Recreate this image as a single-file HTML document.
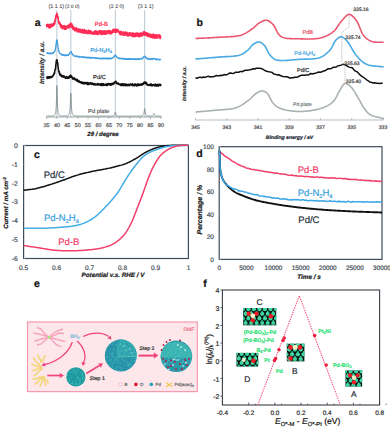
<!DOCTYPE html><html><head><meta charset="utf-8"><style>html,body{margin:0;padding:0;background:#fff;width:390px;height:431px;overflow:hidden;position:relative}</style></head><body><svg width="390" height="431" viewBox="0 0 390 431" text-rendering="geometricPrecision" style="position:absolute;left:0;top:0;font-family:'Liberation Sans', sans-serif">
<rect width="390" height="431" fill="#fff"/>
<line x1="56.9" y1="10" x2="56.9" y2="117" stroke="#a9b9c6" stroke-width="0.8"/>
<line x1="70.84" y1="10" x2="70.84" y2="117" stroke="#a9b9c6" stroke-width="0.8"/>
<line x1="115.35" y1="10" x2="115.35" y2="117" stroke="#a9b9c6" stroke-width="0.8"/>
<line x1="144.68" y1="10" x2="144.68" y2="117" stroke="#a9b9c6" stroke-width="0.8"/>
<text x="56.2" y="8.4" font-size="5.4" fill="#555" stroke="#555" stroke-width="0.12" text-anchor="middle">(1 1 1)</text>
<text x="72.2" y="8.4" font-size="5.0" fill="#555" stroke="#555" stroke-width="0.12" text-anchor="middle">(2 0 0)</text>
<text x="116.6" y="8.4" font-size="5.2" fill="#555" stroke="#555" stroke-width="0.12" text-anchor="middle">(2 2 0)</text>
<text x="145.8" y="8.4" font-size="5.4" fill="#555" stroke="#555" stroke-width="0.12" text-anchor="middle">(3 1 1)</text>
<path d="M46.5,25.45 L46.67,24.8 L46.83,26.7 L47,24.51 L47.17,26.28 L47.33,25.64 L47.5,24.47 L47.66,26.19 L47.83,24.4 L48,25.91 L48.16,24.53 L48.33,24.61 L48.5,25.88 L48.66,27.4 L48.83,24.73 L49,25.1 L49.16,26.63 L49.33,27.84 L49.5,26.43 L49.66,25.73 L49.83,27.92 L49.99,24.37 L50.16,27.44 L50.33,25.26 L50.49,24.68 L50.66,24.55 L50.83,25.25 L50.99,27.15 L51.16,24.69 L51.33,26.18 L51.49,26.35 L51.66,25.28 L51.82,25.89 L51.99,23.98 L52.16,23.9 L52.32,24.37 L52.49,26.08 L52.66,25.02 L52.82,24.47 L52.99,25.37 L53.16,24.73 L53.32,23.98 L53.49,25.68 L53.66,25.11 L53.82,23.15 L53.99,24.14 L54.15,23.66 L54.32,24.65 L54.49,23.72 L54.65,21.61 L54.82,23.76 L54.99,19.93 L55.15,20.46 L55.32,21.07 L55.49,18.02 L55.65,18.48 L55.82,15.91 L55.98,17.41 L56.15,16.9 L56.32,15.36 L56.48,15.82 L56.65,13.19 L56.82,14.39 L56.98,14.02 L57.15,14.26 L57.32,14.32 L57.48,16.5 L57.65,17.74 L57.82,16.87 L57.98,18.51 L58.15,17.12 L58.31,20.4 L58.48,20.98 L58.65,23.01 L58.81,23.01 L58.98,21.55 L59.15,22.45 L59.31,23.99 L59.48,21.95 L59.65,23.99 L59.81,23.2 L59.98,23.3 L60.14,23.35 L60.31,26.28 L60.48,24.07 L60.64,24.72 L60.81,25.44 L60.98,27.43 L61.14,24.57 L61.31,26.1 L61.48,26.61 L61.64,27.99 L61.81,27.85 L61.98,28.12 L62.14,25.98 L62.31,26.59 L62.47,26.45 L62.64,28.52 L62.81,28.87 L62.97,25.87 L63.14,26.03 L63.31,26.29 L63.47,26.35 L63.64,27.35 L63.81,27.8 L63.97,26.6 L64.14,25.65 L64.3,27.27 L64.47,27.11 L64.64,27.89 L64.8,29.39 L64.97,28.41 L65.14,27.77 L65.3,28.17 L65.47,28.41 L65.64,26.06 L65.8,29.28 L65.97,28.83 L66.14,29.19 L66.3,28.9 L66.47,27.35 L66.63,27.37 L66.8,26.23 L66.97,28.22 L67.13,26.02 L67.3,26 L67.47,26.49 L67.63,26.26 L67.8,26.88 L67.97,25.71 L68.13,25.43 L68.3,25.91 L68.46,25.6 L68.63,26.47 L68.8,25.04 L68.96,28.11 L69.13,26.94 L69.3,24.97 L69.46,25.15 L69.63,25.29 L69.8,25.12 L69.96,23.97 L70.13,26.52 L70.3,26.88 L70.46,24.73 L70.63,24.7 L70.79,23.16 L70.96,23.27 L71.13,24.3 L71.29,24.17 L71.46,26.54 L71.63,24.26 L71.79,24.01 L71.96,27.82 L72.13,26.5 L72.29,25.32 L72.46,27.09 L72.62,25.37 L72.79,27.5 L72.96,29.41 L73.12,29.17 L73.29,28.71 L73.46,27.21 L73.62,27.76 L73.79,27.13 L73.96,29.55 L74.12,28.76 L74.29,29.8 L74.46,28.19 L74.62,27.87 L74.79,30.19 L74.95,30.93 L75.12,30.5 L75.29,30.4 L75.45,30.52 L75.62,30.29 L75.79,28.4 L75.95,29.57 L76.12,29.01 L76.29,27.83 L76.45,27.88 L76.62,28.88 L76.78,28.86 L76.95,30.55 L77.12,31.6 L77.28,29.72 L77.45,31.62 L77.62,31.86 L77.78,31.78 L77.95,29.58 L78.12,29.07 L78.28,29.13 L78.45,29.06 L78.62,29.13 L78.78,30.76 L78.95,31.85 L79.11,31.66 L79.28,30.32 L79.45,31.02 L79.61,31.61 L79.78,28.93 L79.95,31.15 L80.11,32.14 L80.28,31.69 L80.45,31.6 L80.61,30.6 L80.78,29.49 L80.94,31.85 L81.11,30.15 L81.28,31.96 L81.44,32.64 L81.61,30.48 L81.78,30.54 L81.94,32.64 L82.11,31.83 L82.28,29.75 L82.44,29.62 L82.61,29.74 L82.78,32.64 L82.94,32.3 L83.11,29.82 L83.27,32.43 L83.44,33.05 L83.61,31.85 L83.77,30.72 L83.94,31.5 L84.11,29.94 L84.27,29.53 L84.44,33.2 L84.61,32.01 L84.77,31.57 L84.94,33.14 L85.1,31.27 L85.27,32.97 L85.44,32.82 L85.6,30.52 L85.77,30.7 L85.94,30.89 L86.1,30.72 L86.27,32.06 L86.44,30.85 L86.6,31.48 L86.77,30.42 L86.94,33.41 L87.1,31.32 L87.27,31.75 L87.43,32.25 L87.6,33.5 L87.77,31.69 L87.93,33.61 L88.1,32.06 L88.27,32.2 L88.43,32.2 L88.6,30.31 L88.77,31.94 L88.93,30.99 L89.1,30.34 L89.26,33.39 L89.43,31.03 L89.6,32.21 L89.76,33.19 L89.93,32.58 L90.1,31.72 L90.26,32.46 L90.43,32.6 L90.6,33.48 L90.76,30.91 L90.93,32.64 L91.1,31.46 L91.26,31.57 L91.43,33.46 L91.59,32.46 L91.76,32.67 L91.93,33.43 L92.09,34.01 L92.26,32.23 L92.43,32.88 L92.59,32.48 L92.76,32.51 L92.93,33.2 L93.09,32.29 L93.26,32.61 L93.42,32.4 L93.59,34.17 L93.76,33.25 L93.92,33.93 L94.09,34.18 L94.26,31.59 L94.42,32.74 L94.59,34.2 L94.76,33.81 L94.92,31.15 L95.09,31.09 L95.26,32.32 L95.42,30.92 L95.59,31.56 L95.75,30.93 L95.92,33.2 L96.09,33.64 L96.25,34.07 L96.42,31.25 L96.59,33.39 L96.75,33.18 L96.92,31.22 L97.09,34.04 L97.25,34.37 L97.42,31.53 L97.58,34.32 L97.75,32.21 L97.92,32.56 L98.08,34.47 L98.25,33.88 L98.42,31.33 L98.58,32.36 L98.75,32.68 L98.92,32.02 L99.08,31.47 L99.25,31.94 L99.42,33.48 L99.58,30.82 L99.75,32.85 L99.91,32.42 L100.08,30.82 L100.25,32.01 L100.41,33.12 L100.58,32.7 L100.75,30.99 L100.91,34.49 L101.08,33.75 L101.25,34.44 L101.41,31.15 L101.58,31.76 L101.74,30.9 L101.91,33.71 L102.08,31.78 L102.24,31.24 L102.41,32.35 L102.58,34.21 L102.74,33.86 L102.91,31.73 L103.08,31.31 L103.24,34.23 L103.41,32.91 L103.58,33.4 L103.74,31.07 L103.91,30.95 L104.07,33.35 L104.24,32.34 L104.41,31 L104.57,34.29 L104.74,33.13 L104.91,33.76 L105.07,31.03 L105.24,33.96 L105.41,30.96 L105.57,33.98 L105.74,32.42 L105.9,31.98 L106.07,32.78 L106.24,34.2 L106.4,31.69 L106.57,31.15 L106.74,32.66 L106.9,31.55 L107.07,31.05 L107.24,31.24 L107.4,30.81 L107.57,31.38 L107.74,31.78 L107.9,31.75 L108.07,33.46 L108.23,31.66 L108.4,32.45 L108.57,31.21 L108.73,31.84 L108.9,30.57 L109.07,31.43 L109.23,30.52 L109.4,33.23 L109.57,32.51 L109.73,31.12 L109.9,32.17 L110.06,33.9 L110.23,30.72 L110.4,33.4 L110.56,31.89 L110.73,32.1 L110.9,33.35 L111.06,31.63 L111.23,32.02 L111.4,32.66 L111.56,33.73 L111.73,31.25 L111.9,33.05 L112.06,32.52 L112.23,32.19 L112.39,31.24 L112.56,30.95 L112.73,29.77 L112.89,29.98 L113.06,29.67 L113.23,32.14 L113.39,30.21 L113.56,29.77 L113.73,29.39 L113.89,32.18 L114.06,32.21 L114.22,31.38 L114.39,29.83 L114.56,29.62 L114.72,29.76 L114.89,30.35 L115.06,29.18 L115.22,30.28 L115.39,29.6 L115.56,32.29 L115.72,32.37 L115.89,30.81 L116.06,29.73 L116.22,32.55 L116.39,30.14 L116.55,30.42 L116.72,29.17 L116.89,30.72 L117.05,31.18 L117.22,31.39 L117.39,30.35 L117.55,31.61 L117.72,29.81 L117.89,30.89 L118.05,30.33 L118.22,31.6 L118.38,30.33 L118.55,30.34 L118.72,31.5 L118.88,31.3 L119.05,32.72 L119.22,32.58 L119.38,33.49 L119.55,33.2 L119.72,33.49 L119.88,34.17 L120.05,32.37 L120.22,32.18 L120.38,34.74 L120.55,31.61 L120.71,33.85 L120.88,33.59 L121.05,31.36 L121.21,34.41 L121.38,34.67 L121.55,33.7 L121.71,34.15 L121.88,34.49 L122.05,31.97 L122.21,33.47 L122.38,33.43 L122.54,34.72 L122.71,34.64 L122.88,34.75 L123.04,33.87 L123.21,35.07 L123.38,34.31 L123.54,34.38 L123.71,32.64 L123.88,31.92 L124.04,32.34 L124.21,33.23 L124.38,32.29 L124.54,35.09 L124.71,34.06 L124.87,34.35 L125.04,34.37 L125.21,34.61 L125.37,33.91 L125.54,32.08 L125.71,35.13 L125.87,34.97 L126.04,34.06 L126.21,34.21 L126.37,34.7 L126.54,32.47 L126.7,35.04 L126.87,33.22 L127.04,32.57 L127.2,33.32 L127.37,35.11 L127.54,33.14 L127.7,35.19 L127.87,36.11 L128.04,34.3 L128.2,33.9 L128.37,34.29 L128.54,35.09 L128.7,35.43 L128.87,34.88 L129.03,35 L129.2,32.87 L129.37,33.15 L129.53,33.58 L129.7,35.46 L129.87,33.81 L130.03,34.83 L130.2,32.73 L130.37,32.93 L130.53,33.73 L130.7,35.27 L130.86,35.36 L131.03,35.31 L131.2,33.86 L131.36,34.73 L131.53,34.54 L131.7,34.56 L131.86,33.25 L132.03,36.2 L132.2,33.57 L132.36,36.54 L132.53,36.39 L132.7,32.91 L132.86,34.6 L133.03,35.98 L133.19,36.55 L133.36,34.59 L133.53,33.91 L133.69,33.69 L133.86,36.5 L134.03,33.71 L134.19,35.13 L134.36,33.46 L134.53,34.92 L134.69,36.56 L134.86,33.45 L135.02,36.07 L135.19,34.89 L135.36,36.33 L135.52,35.64 L135.69,33.85 L135.86,36.38 L136.02,34.82 L136.19,33.07 L136.36,32.99 L136.52,34.85 L136.69,34.69 L136.86,34.13 L137.02,33.52 L137.19,34.29 L137.35,34.18 L137.52,36.17 L137.69,32.98 L137.85,35.82 L138.02,36.15 L138.19,33.41 L138.35,36.47 L138.52,35.65 L138.69,36.36 L138.85,34.02 L139.02,34.32 L139.18,34.38 L139.35,36.67 L139.52,35.09 L139.68,34.21 L139.85,34.44 L140.02,33.83 L140.18,32.95 L140.35,33.12 L140.52,35.87 L140.68,33.75 L140.85,36.18 L141.02,33.53 L141.18,33.55 L141.35,34.43 L141.51,33.16 L141.68,33.8 L141.85,35.96 L142.01,35.62 L142.18,35.28 L142.35,34.53 L142.51,35.53 L142.68,35.56 L142.85,34 L143.01,34.57 L143.18,31.95 L143.34,34.48 L143.51,33.34 L143.68,34.42 L143.84,33.96 L144.01,32.55 L144.18,31.62 L144.34,34.93 L144.51,31.88 L144.68,33.2 L144.84,32.73 L145.01,32.59 L145.18,34.31 L145.34,35.27 L145.51,32.62 L145.67,34.2 L145.84,32.94 L146.01,34.01 L146.17,33.48 L146.34,32.72 L146.51,32.79 L146.67,33.07 L146.84,35.82 L147.01,34.36 L147.17,33.4 L147.34,36.1 L147.5,36.53 L147.67,34.53 L147.84,33.43 L148,33.71 L148.17,33.4 L148.34,34.42 L148.5,33.53 L148.67,34.16 L148.84,34.29 L149,35.53 L149.17,36.79 L149.34,36.32 L149.5,35.09 L149.67,35.14 L149.83,35.6 L150,35.09 L150.17,34.98 L150.33,33.97 L150.5,34.83 L150.67,37.48 L150.83,34.32 L151,35.79 L151.17,36.3 L151.33,37.22 L151.5,34.79 L151.66,35.03 L151.83,34.97 L152,35.57 L152.16,35.77 L152.33,37.73 L152.5,37.35 L152.66,37.47 L152.83,34.26 L153,34.32 L153.16,36.92 L153.33,37.65 L153.5,36.06 L153.66,36.52 L153.83,34.31 L153.99,35.82 L154.16,37.87 L154.33,37.5 L154.49,37.64 L154.66,38.1 L154.83,35.37 L154.99,34.86 L155.16,35.05 L155.33,36.46 L155.49,37.09 L155.66,38.09 L155.82,37.27 L155.99,37.01 L156.16,37.47 L156.32,36.32 L156.49,36.69 L156.66,34.76 L156.82,37.6 L156.99,35.53 L157.16,38.16 L157.32,37.13 L157.49,35.85 L157.66,35.19 L157.82,35.68 L157.99,37.15 L158.15,37.41 L158.32,35.19 L158.49,35.05 L158.65,36.79 L158.82,37.03 L158.99,36.3 L159.15,35.69 L159.32,37.14 L159.49,34.91 L159.65,36.03 L159.82,36.65 L159.98,38.55 L160.15,37.37 L160.32,38.3 L160.48,36.76 L160.65,35.86 L160.82,35.92" fill="none" stroke="#ff2d55" stroke-width="1.6" stroke-linejoin="round"/>
<path d="M46.5,53.52 L46.75,53.31 L47,52.98 L47.25,52.75 L47.5,53.21 L47.75,53.39 L48,53.19 L48.25,53.06 L48.5,53.45 L48.75,53.7 L49,53.09 L49.25,52.94 L49.5,53.23 L49.74,53.31 L49.99,53.56 L50.24,53.13 L50.49,53.67 L50.74,53.62 L50.99,53.4 L51.24,53.12 L51.49,53.79 L51.74,53.18 L51.99,53.6 L52.24,53.03 L52.49,52.96 L52.74,53.37 L52.99,52.86 L53.24,53.34 L53.49,52.78 L53.74,52.32 L53.99,52.12 L54.24,52 L54.49,51.84 L54.74,51.61 L54.99,50.25 L55.24,49.64 L55.49,48.4 L55.74,47.69 L55.98,45.19 L56.23,43.09 L56.48,41.09 L56.73,39.98 L56.98,40.24 L57.23,41.35 L57.48,43.17 L57.73,45.55 L57.98,47.41 L58.23,48.45 L58.48,49.57 L58.73,51.23 L58.98,51.82 L59.23,51.78 L59.48,52.83 L59.73,52.97 L59.98,53.28 L60.23,53.51 L60.48,53.59 L60.73,53.64 L60.98,54.06 L61.23,54.27 L61.48,54.94 L61.73,54.31 L61.98,55.17 L62.22,54.56 L62.47,54.77 L62.72,55.24 L62.97,55.3 L63.22,55 L63.47,54.69 L63.72,55.11 L63.97,55.06 L64.22,55.58 L64.47,54.95 L64.72,55.13 L64.97,55.63 L65.22,54.86 L65.47,55.21 L65.72,55.58 L65.97,55.54 L66.22,54.88 L66.47,54.86 L66.72,54.87 L66.97,55.61 L67.22,54.97 L67.47,55.36 L67.72,55.43 L67.97,54.84 L68.22,54.66 L68.46,55.13 L68.71,54.64 L68.96,54.09 L69.21,54.22 L69.46,53.5 L69.71,53.05 L69.96,52.34 L70.21,52.55 L70.46,52.3 L70.71,51.82 L70.96,52.12 L71.21,51.57 L71.46,52.2 L71.71,52.93 L71.96,53.87 L72.21,54.33 L72.46,54.22 L72.71,54.43 L72.96,54.87 L73.21,55.15 L73.46,55.74 L73.71,55.23 L73.96,55.92 L74.21,55.98 L74.46,56.16 L74.7,56.21 L74.95,56.14 L75.2,55.96 L75.45,56.01 L75.7,56.11 L75.95,56.54 L76.2,55.96 L76.45,56.11 L76.7,56.65 L76.95,56.24 L77.2,56.11 L77.45,56.12 L77.7,56.62 L77.95,56.45 L78.2,57.07 L78.45,57.02 L78.7,57.14 L78.95,56.52 L79.2,56.38 L79.45,56.42 L79.7,56.81 L79.95,57.03 L80.2,56.82 L80.45,56.65 L80.7,56.84 L80.94,57.05 L81.19,57.12 L81.44,57.21 L81.69,57.32 L81.94,57.18 L82.19,56.71 L82.44,57.38 L82.69,56.91 L82.94,57.18 L83.19,57.03 L83.44,57.38 L83.69,56.91 L83.94,56.98 L84.19,57 L84.44,56.93 L84.69,57.61 L84.94,57.36 L85.19,57.15 L85.44,57.24 L85.69,57.79 L85.94,57.38 L86.19,57.15 L86.44,57.69 L86.69,57.57 L86.94,57.89 L87.18,57.11 L87.43,57.47 L87.68,57.8 L87.93,57.84 L88.18,57.92 L88.43,57.16 L88.68,57.4 L88.93,57.27 L89.18,57.35 L89.43,58.07 L89.68,57.74 L89.93,58.07 L90.18,57.59 L90.43,58.06 L90.68,57.7 L90.93,57.55 L91.18,58.03 L91.43,58.2 L91.68,57.47 L91.93,57.93 L92.18,57.97 L92.43,57.63 L92.68,57.78 L92.93,57.59 L93.18,57.67 L93.42,57.73 L93.67,58.06 L93.92,58.13 L94.17,57.75 L94.42,57.59 L94.67,57.89 L94.92,58.23 L95.17,57.8 L95.42,57.94 L95.67,57.86 L95.92,58.41 L96.17,58.21 L96.42,57.79 L96.67,57.84 L96.92,58.12 L97.17,58.28 L97.42,58.38 L97.67,57.91 L97.92,57.99 L98.17,58.49 L98.42,58.25 L98.67,58.15 L98.92,58.19 L99.17,58.79 L99.42,58.23 L99.66,58.48 L99.91,58.31 L100.16,58.37 L100.41,58.78 L100.66,58.9 L100.91,58.34 L101.16,58.19 L101.41,58.67 L101.66,58.2 L101.91,58.03 L102.16,58.84 L102.41,58.41 L102.66,58.77 L102.91,58.4 L103.16,58.83 L103.41,58.46 L103.66,58.19 L103.91,58.06 L104.16,58.55 L104.41,58.63 L104.66,58.88 L104.91,58.14 L105.16,58.62 L105.41,58.4 L105.66,58.52 L105.9,58.2 L106.15,58.32 L106.4,58.53 L106.65,58.9 L106.9,58.16 L107.15,58.5 L107.4,58.79 L107.65,58.93 L107.9,58.23 L108.15,58.17 L108.4,58.9 L108.65,58.92 L108.9,58.47 L109.15,58.08 L109.4,58.85 L109.65,58.36 L109.9,58.81 L110.15,58.53 L110.4,58.7 L110.65,58.08 L110.9,58.61 L111.15,58.07 L111.4,58.2 L111.65,58.55 L111.9,58.48 L112.14,57.84 L112.39,57.79 L112.64,57.85 L112.89,57.84 L113.14,57.57 L113.39,57.16 L113.64,57.05 L113.89,57.21 L114.14,57.04 L114.39,55.91 L114.64,55.99 L114.89,55.82 L115.14,54.93 L115.39,55.59 L115.64,55.08 L115.89,55.81 L116.14,56.14 L116.39,56.6 L116.64,56.67 L116.89,57.09 L117.14,57.5 L117.39,57.57 L117.64,57.96 L117.89,57.92 L118.14,58.03 L118.38,57.76 L118.63,58.38 L118.88,58.33 L119.13,58.17 L119.38,58.7 L119.63,58.76 L119.88,58.51 L120.13,58.29 L120.38,58.59 L120.63,58.28 L120.88,58.33 L121.13,58.62 L121.38,58.34 L121.63,58.67 L121.88,58.75 L122.13,58.35 L122.38,58.9 L122.63,58.41 L122.88,59.01 L123.13,59.06 L123.38,58.84 L123.63,58.43 L123.88,58.85 L124.13,58.75 L124.38,59.27 L124.62,58.55 L124.87,59.21 L125.12,59.34 L125.37,59.11 L125.62,59.19 L125.87,58.64 L126.12,59.36 L126.37,58.92 L126.62,59.35 L126.87,59.32 L127.12,58.65 L127.37,59.22 L127.62,59.35 L127.87,58.58 L128.12,58.84 L128.37,59.21 L128.62,58.68 L128.87,59.35 L129.12,58.8 L129.37,59.29 L129.62,58.69 L129.87,59.02 L130.12,59.4 L130.37,58.76 L130.62,58.82 L130.86,59.04 L131.11,58.88 L131.36,58.63 L131.61,58.76 L131.86,58.75 L132.11,59.45 L132.36,59.22 L132.61,59.42 L132.86,58.77 L133.11,59.33 L133.36,58.73 L133.61,59.11 L133.86,59.2 L134.11,58.96 L134.36,59.42 L134.61,59.14 L134.86,59.16 L135.11,59.44 L135.36,58.74 L135.61,59.54 L135.86,59.21 L136.11,59 L136.36,59.37 L136.61,58.89 L136.86,59.54 L137.1,59.17 L137.35,58.97 L137.6,59.33 L137.85,59.04 L138.1,58.79 L138.35,59.3 L138.6,58.66 L138.85,59.35 L139.1,58.83 L139.35,59.17 L139.6,59.46 L139.85,59.09 L140.1,59.14 L140.35,58.79 L140.6,58.49 L140.85,58.48 L141.1,58.54 L141.35,58.91 L141.6,58.68 L141.85,58.68 L142.1,58.93 L142.35,58.13 L142.6,58.08 L142.85,58.29 L143.1,57.51 L143.34,57.24 L143.59,57.27 L143.84,56.72 L144.09,56.62 L144.34,56.24 L144.59,56.43 L144.84,56.47 L145.09,56.31 L145.34,56.99 L145.59,57.19 L145.84,57.21 L146.09,58.22 L146.34,57.84 L146.59,57.96 L146.84,58.08 L147.09,58.71 L147.34,59.03 L147.59,59.04 L147.84,58.78 L148.09,58.72 L148.34,58.54 L148.59,59.16 L148.84,59.12 L149.09,58.96 L149.34,59.25 L149.58,59.09 L149.83,59.55 L150.08,59.38 L150.33,58.95 L150.58,59.55 L150.83,58.77 L151.08,59.21 L151.33,59.08 L151.58,58.91 L151.83,58.71 L152.08,59.32 L152.33,58.57 L152.58,58.97 L152.83,59.22 L153.08,58.39 L153.33,58.33 L153.58,58.6 L153.83,58.48 L154.08,58.65 L154.33,58.91 L154.58,58.47 L154.83,58.73 L155.08,58.84 L155.33,58.71 L155.58,59.55 L155.82,59.51 L156.07,59.51 L156.32,58.91 L156.57,59.7 L156.82,59.64 L157.07,59.41 L157.32,59.69 L157.57,59.44 L157.82,59.26 L158.07,59.17 L158.32,59.29 L158.57,59.13 L158.82,59.41 L159.07,59.8 L159.32,59.76 L159.57,59.9 L159.82,59.79 L160.07,59.4 L160.32,59.67 L160.57,59.57 L160.82,59.89" fill="none" stroke="#3a9de0" stroke-width="1.3" stroke-linejoin="round"/>
<path d="M46.5,77.69 L46.75,77.15 L47,77.87 L47.25,78.49 L47.5,76.97 L47.75,78.26 L48,76.5 L48.25,76.96 L48.5,76.87 L48.75,77.85 L49,78.2 L49.25,77.76 L49.5,76.87 L49.74,77.93 L49.99,76.76 L50.24,76.52 L50.49,77.79 L50.74,77.16 L50.99,77.19 L51.24,77.04 L51.49,77.56 L51.74,76.42 L51.99,77.03 L52.24,76.59 L52.49,76.73 L52.74,75.69 L52.99,76.03 L53.24,75.44 L53.49,74.6 L53.74,74.02 L53.99,74.38 L54.24,72.74 L54.49,73.74 L54.74,71.39 L54.99,70.16 L55.24,69.1 L55.49,69.28 L55.74,66.39 L55.98,64.05 L56.23,61.83 L56.48,60.09 L56.73,60.26 L56.98,59.96 L57.23,60.91 L57.48,62.57 L57.73,63.17 L57.98,66.18 L58.23,67.51 L58.48,69.95 L58.73,71.23 L58.98,72.42 L59.23,71.62 L59.48,73.92 L59.73,74.59 L59.98,75.12 L60.23,73.83 L60.48,74.35 L60.73,74.43 L60.98,74.51 L61.23,76.33 L61.48,76.42 L61.73,76.21 L61.98,76.71 L62.22,76.47 L62.47,75.92 L62.72,75.67 L62.97,75.78 L63.22,77.2 L63.47,76.2 L63.72,76.51 L63.97,76.81 L64.22,76.08 L64.47,76.62 L64.72,76.74 L64.97,77.67 L65.22,77.03 L65.47,76.99 L65.72,78.33 L65.97,77.46 L66.22,78.19 L66.47,77.76 L66.72,76.62 L66.97,77.41 L67.22,77.47 L67.47,78.15 L67.72,77.3 L67.97,78 L68.22,77.64 L68.46,76.96 L68.71,78.18 L68.96,76.55 L69.21,77.88 L69.46,76.42 L69.71,75.89 L69.96,76.06 L70.21,76.96 L70.46,77.2 L70.71,75.16 L70.96,76.18 L71.21,76.36 L71.46,77.25 L71.71,76.35 L71.96,77.28 L72.21,77.27 L72.46,78.49 L72.71,77.57 L72.96,79.12 L73.21,77.96 L73.46,77.96 L73.71,79.05 L73.96,78.75 L74.21,78.07 L74.46,79.21 L74.7,78.18 L74.95,79.67 L75.2,79.63 L75.45,79.96 L75.7,79.79 L75.95,79.39 L76.2,79.62 L76.45,79.75 L76.7,80.88 L76.95,79.41 L77.2,81.15 L77.45,79.56 L77.7,80.06 L77.95,80.31 L78.2,81.72 L78.45,81.05 L78.7,80.94 L78.95,82.08 L79.2,80.91 L79.45,81.49 L79.7,81.76 L79.95,82.34 L80.2,82.47 L80.45,82.38 L80.7,81.92 L80.94,82 L81.19,81.79 L81.44,83.29 L81.69,83.06 L81.94,83.34 L82.19,82.25 L82.44,82.81 L82.69,83.5 L82.94,83.14 L83.19,82.26 L83.44,82.95 L83.69,83.83 L83.94,82.56 L84.19,82.49 L84.44,82.73 L84.69,83.56 L84.94,83.86 L85.19,82.51 L85.44,82.53 L85.69,82.74 L85.94,82.92 L86.19,83.34 L86.44,82.64 L86.69,83 L86.94,82.74 L87.18,84.34 L87.43,83.87 L87.68,82.64 L87.93,84.38 L88.18,82.68 L88.43,83.27 L88.68,84.49 L88.93,84.14 L89.18,84.04 L89.43,83.46 L89.68,83.01 L89.93,83.92 L90.18,82.88 L90.43,83.1 L90.68,83.48 L90.93,82.8 L91.18,83.55 L91.43,84.36 L91.68,84.19 L91.93,83.82 L92.18,84.11 L92.43,83.79 L92.68,83.17 L92.93,84.12 L93.18,83.74 L93.42,84.44 L93.67,84.79 L93.92,83.86 L94.17,84.17 L94.42,84.54 L94.67,83.91 L94.92,83.55 L95.17,84.56 L95.42,84.89 L95.67,84.7 L95.92,84.58 L96.17,84.91 L96.42,84.58 L96.67,84.53 L96.92,84.17 L97.17,83.91 L97.42,84.57 L97.67,83.53 L97.92,84.19 L98.17,84.94 L98.42,84.82 L98.67,84.68 L98.92,83.94 L99.17,84.31 L99.42,84.39 L99.66,84.75 L99.91,84.35 L100.16,84.89 L100.41,85.4 L100.66,83.91 L100.91,84.85 L101.16,85.1 L101.41,84.32 L101.66,84.53 L101.91,85.5 L102.16,83.63 L102.41,84.64 L102.66,83.87 L102.91,85.12 L103.16,85.43 L103.41,84.59 L103.66,83.76 L103.91,84.7 L104.16,84.64 L104.41,84.99 L104.66,84.58 L104.91,84.83 L105.16,85.21 L105.41,84.6 L105.66,84.37 L105.9,85.45 L106.15,83.97 L106.4,84.92 L106.65,84.33 L106.9,85.07 L107.15,83.78 L107.4,85.5 L107.65,84.24 L107.9,83.64 L108.15,84.07 L108.4,84.31 L108.65,83.53 L108.9,84.33 L109.15,84.32 L109.4,84.86 L109.65,84.15 L109.9,83.96 L110.15,83.86 L110.4,84.87 L110.65,85.24 L110.9,84.39 L111.15,83.74 L111.4,84.86 L111.65,83.99 L111.9,83.57 L112.14,83.34 L112.39,84.55 L112.64,84.52 L112.89,84.05 L113.14,83.58 L113.39,83.59 L113.64,82.72 L113.89,83.96 L114.14,82.48 L114.39,82.76 L114.64,82.84 L114.89,82.59 L115.14,81.73 L115.39,81.34 L115.64,81.94 L115.89,81.3 L116.14,82.98 L116.39,82.32 L116.64,83.59 L116.89,82.69 L117.14,83.13 L117.39,83.08 L117.64,83.59 L117.89,83.25 L118.14,83 L118.38,84.54 L118.63,83.74 L118.88,83.74 L119.13,83.91 L119.38,84.32 L119.63,84.26 L119.88,84.72 L120.13,84.8 L120.38,84.24 L120.63,85.4 L120.88,85.27 L121.13,83.7 L121.38,85.26 L121.63,85.44 L121.88,85.21 L122.13,83.94 L122.38,85.33 L122.63,84.95 L122.88,83.72 L123.13,83.73 L123.38,85.62 L123.63,85.04 L123.88,84.23 L124.13,83.94 L124.38,84.04 L124.62,84.22 L124.87,85.32 L125.12,84.46 L125.37,84.08 L125.62,85.59 L125.87,85.37 L126.12,84.13 L126.37,85.58 L126.62,85.02 L126.87,85.37 L127.12,85.15 L127.37,85.61 L127.62,85.4 L127.87,85.51 L128.12,84.23 L128.37,85.22 L128.62,84.9 L128.87,85.33 L129.12,84.72 L129.37,85.62 L129.62,84.96 L129.87,84.38 L130.12,84.33 L130.37,84.14 L130.62,84.85 L130.86,83.98 L131.11,84.8 L131.36,84.16 L131.61,84.86 L131.86,84.87 L132.11,84.96 L132.36,85.6 L132.61,83.89 L132.86,85.56 L133.11,84.82 L133.36,85.01 L133.61,85.21 L133.86,85.57 L134.11,84.63 L134.36,84.72 L134.61,85.8 L134.86,84.03 L135.11,85.16 L135.36,85.15 L135.61,83.94 L135.86,85.1 L136.11,85.24 L136.36,85.73 L136.61,84.53 L136.86,85.83 L137.1,84.88 L137.35,84.82 L137.6,85.64 L137.85,83.9 L138.1,85.26 L138.35,85.07 L138.6,84.48 L138.85,85.51 L139.1,84.51 L139.35,84.7 L139.6,84.79 L139.85,85.25 L140.1,84.1 L140.35,84.52 L140.6,84.46 L140.85,84.67 L141.1,85.17 L141.35,84.04 L141.6,85.04 L141.85,84.11 L142.1,84.21 L142.35,83.63 L142.6,83.97 L142.85,84.75 L143.1,83.93 L143.34,84 L143.59,82.87 L143.84,82.63 L144.09,82.41 L144.34,82.84 L144.59,82.87 L144.84,83.19 L145.09,81.8 L145.34,83.33 L145.59,83.86 L145.84,83.4 L146.09,82.62 L146.34,83.32 L146.59,82.91 L146.84,83.43 L147.09,85.03 L147.34,84.52 L147.59,84.72 L147.84,85.06 L148.09,85.38 L148.34,84.85 L148.59,84.91 L148.84,84.98 L149.09,85.16 L149.34,85 L149.58,85.2 L149.83,84.29 L150.08,85.23 L150.33,84.83 L150.58,85.47 L150.83,84.16 L151.08,84.34 L151.33,84.07 L151.58,85.56 L151.83,85.85 L152.08,85.35 L152.33,84.79 L152.58,85.7 L152.83,85.64 L153.08,85.2 L153.33,84.61 L153.58,84.7 L153.83,84.95 L154.08,84.75 L154.33,84.98 L154.58,85.41 L154.83,86 L155.08,84.25 L155.33,85.29 L155.58,84.24 L155.82,84.4 L156.07,85.79 L156.32,85.32 L156.57,86.02 L156.82,85.08 L157.07,84.22 L157.32,84.97 L157.57,85.38 L157.82,86.08 L158.07,86.17 L158.32,85.17 L158.57,85.04 L158.82,84.43 L159.07,85.52 L159.32,84.66 L159.57,84.54 L159.82,84.27 L160.07,84.25 L160.32,85.62 L160.57,84.5 L160.82,86.19" fill="none" stroke="#111" stroke-width="1.6" stroke-linejoin="round"/>
<path d="M46.5,116.13 L46.6,116.13 L46.71,116.13 L46.81,116.13 L46.92,116.12 L47.02,116.12 L47.12,116.12 L47.23,116.12 L47.33,116.12 L47.44,116.12 L47.54,116.12 L47.64,116.11 L47.75,116.11 L47.85,116.11 L47.96,116.11 L48.06,116.11 L48.16,116.1 L48.27,116.1 L48.37,116.1 L48.48,116.1 L48.58,116.09 L48.68,116.09 L48.79,116.09 L48.89,116.09 L49,116.08 L49.1,116.08 L49.2,116.08 L49.31,116.08 L49.41,116.07 L49.52,116.07 L49.62,116.07 L49.72,116.06 L49.83,116.06 L49.93,116.05 L50.04,116.05 L50.14,116.05 L50.24,116.04 L50.35,116.04 L50.45,116.03 L50.56,116.03 L50.66,116.02 L50.76,116.02 L50.87,116.01 L50.97,116 L51.08,116 L51.18,115.99 L51.28,115.98 L51.39,115.97 L51.49,115.97 L51.6,115.96 L51.7,115.95 L51.8,115.94 L51.91,115.93 L52.01,115.92 L52.12,115.9 L52.22,115.89 L52.32,115.88 L52.43,115.86 L52.53,115.85 L52.64,115.83 L52.74,115.82 L52.84,115.8 L52.95,115.78 L53.05,115.75 L53.16,115.73 L53.26,115.7 L53.36,115.68 L53.47,115.65 L53.57,115.61 L53.68,115.58 L53.78,115.54 L53.88,115.49 L53.99,115.44 L54.09,115.39 L54.2,115.33 L54.3,115.26 L54.4,115.18 L54.51,115.1 L54.61,115 L54.72,114.89 L54.82,114.77 L54.92,114.62 L55.03,114.45 L55.13,114.26 L55.24,114.03 L55.34,113.76 L55.44,113.43 L55.55,113.04 L55.65,112.56 L55.76,111.96 L55.86,111.22 L55.96,110.29 L56.07,109.09 L56.17,107.53 L56.28,105.5 L56.38,102.86 L56.48,99.47 L56.59,95.35 L56.69,90.89 L56.8,87.17 L56.9,85.67 L57,87.16 L57.11,90.89 L57.21,95.34 L57.32,99.47 L57.42,102.85 L57.52,105.5 L57.63,107.53 L57.73,109.08 L57.84,110.28 L57.94,111.21 L58.04,111.95 L58.15,112.55 L58.25,113.02 L58.36,113.42 L58.46,113.74 L58.56,114.01 L58.67,114.24 L58.77,114.44 L58.88,114.6 L58.98,114.75 L59.08,114.87 L59.19,114.98 L59.29,115.08 L59.4,115.16 L59.5,115.23 L59.6,115.3 L59.71,115.36 L59.81,115.41 L59.92,115.46 L60.02,115.5 L60.12,115.54 L60.23,115.58 L60.33,115.61 L60.44,115.64 L60.54,115.67 L60.64,115.69 L60.75,115.71 L60.85,115.73 L60.96,115.75 L61.06,115.77 L61.16,115.79 L61.27,115.8 L61.37,115.81 L61.48,115.83 L61.58,115.84 L61.68,115.85 L61.79,115.86 L61.89,115.87 L62,115.88 L62.1,115.88 L62.2,115.89 L62.31,115.9 L62.41,115.9 L62.52,115.91 L62.62,115.91 L62.72,115.92 L62.83,115.92 L62.93,115.93 L63.04,115.93 L63.14,115.93 L63.24,115.93 L63.35,115.94 L63.45,115.94 L63.56,115.94 L63.66,115.94 L63.76,115.94 L63.87,115.94 L63.97,115.94 L64.08,115.94 L64.18,115.94 L64.28,115.94 L64.39,115.94 L64.49,115.93 L64.6,115.93 L64.7,115.93 L64.8,115.93 L64.91,115.92 L65.01,115.92 L65.12,115.92 L65.22,115.91 L65.32,115.91 L65.43,115.9 L65.53,115.89 L65.64,115.89 L65.74,115.88 L65.84,115.87 L65.95,115.86 L66.05,115.85 L66.16,115.84 L66.26,115.83 L66.36,115.82 L66.47,115.81 L66.57,115.79 L66.68,115.78 L66.78,115.76 L66.88,115.74 L66.99,115.72 L67.09,115.7 L67.2,115.68 L67.3,115.65 L67.4,115.62 L67.51,115.59 L67.61,115.56 L67.72,115.52 L67.82,115.48 L67.92,115.44 L68.03,115.38 L68.13,115.33 L68.24,115.26 L68.34,115.19 L68.44,115.11 L68.55,115.02 L68.65,114.92 L68.76,114.8 L68.86,114.66 L68.96,114.51 L69.07,114.32 L69.17,114.11 L69.28,113.86 L69.38,113.56 L69.48,113.19 L69.59,112.76 L69.69,112.22 L69.8,111.56 L69.9,110.74 L70,109.7 L70.11,108.39 L70.21,106.74 L70.32,104.66 L70.42,102.14 L70.52,99.25 L70.63,96.34 L70.73,94.05 L70.84,93.17 L70.94,94.05 L71.04,96.34 L71.15,99.26 L71.25,102.14 L71.36,104.67 L71.46,106.74 L71.56,108.4 L71.67,109.71 L71.77,110.75 L71.88,111.57 L71.98,112.23 L72.08,112.77 L72.19,113.21 L72.29,113.57 L72.4,113.87 L72.5,114.13 L72.6,114.34 L72.71,114.53 L72.81,114.68 L72.92,114.82 L73.02,114.94 L73.12,115.04 L73.23,115.14 L73.33,115.22 L73.44,115.29 L73.54,115.36 L73.64,115.41 L73.75,115.47 L73.85,115.51 L73.96,115.55 L74.06,115.59 L74.16,115.63 L74.27,115.66 L74.37,115.69 L74.48,115.72 L74.58,115.74 L74.68,115.77 L74.79,115.79 L74.89,115.81 L75,115.82 L75.1,115.84 L75.2,115.86 L75.31,115.87 L75.41,115.89 L75.52,115.9 L75.62,115.91 L75.72,115.92 L75.83,115.93 L75.93,115.94 L76.04,115.95 L76.14,115.96 L76.24,115.97 L76.35,115.98 L76.45,115.99 L76.56,115.99 L76.66,116 L76.76,116.01 L76.87,116.01 L76.97,116.02 L77.08,116.02 L77.18,116.03 L77.28,116.03 L77.39,116.04 L77.49,116.04 L77.6,116.05 L77.7,116.05 L77.8,116.06 L77.91,116.06 L78.01,116.06 L78.12,116.07 L78.22,116.07 L78.32,116.07 L78.43,116.08 L78.53,116.08 L78.64,116.08 L78.74,116.09 L78.84,116.09 L78.95,116.09 L79.05,116.09 L79.16,116.1 L79.26,116.1 L79.36,116.1 L79.47,116.1 L79.57,116.1 L79.68,116.11 L79.78,116.11 L79.88,116.11 L79.99,116.11 L80.09,116.11 L80.2,116.12 L80.3,116.12 L80.4,116.12 L80.51,116.12 L80.61,116.12 L80.72,116.12 L80.82,116.12 L80.92,116.13 L81.03,116.13 L81.13,116.13 L81.24,116.13 L81.34,116.13 L81.44,116.13 L81.55,116.13 L81.65,116.13 L81.76,116.14 L81.86,116.14 L81.96,116.14 L82.07,116.14 L82.17,116.14 L82.28,116.14 L82.38,116.14 L82.48,116.14 L82.59,116.14 L82.69,116.14 L82.8,116.14 L82.9,116.15 L83,116.15 L83.11,116.15 L83.21,116.15 L83.32,116.15 L83.42,116.15 L83.52,116.15 L83.63,116.15 L83.73,116.15 L83.84,116.15 L83.94,116.15 L84.04,116.15 L84.15,116.15 L84.25,116.15 L84.36,116.15 L84.46,116.16 L84.56,116.16 L84.67,116.16 L84.77,116.16 L84.88,116.16 L84.98,116.16 L85.08,116.16 L85.19,116.16 L85.29,116.16 L85.4,116.16 L85.5,116.16 L85.6,116.16 L85.71,116.16 L85.81,116.16 L85.92,116.16 L86.02,116.16 L86.12,116.16 L86.23,116.16 L86.33,116.16 L86.44,116.16 L86.54,116.16 L86.64,116.16 L86.75,116.17 L86.85,116.17 L86.96,116.17 L87.06,116.17 L87.16,116.17 L87.27,116.17 L87.37,116.17 L87.48,116.17 L87.58,116.17 L87.68,116.17 L87.79,116.17 L87.89,116.17 L88,116.17 L88.1,116.17 L88.2,116.17 L88.31,116.17 L88.41,116.17 L88.52,116.17 L88.62,116.17 L88.72,116.17 L88.83,116.17 L88.93,116.17 L89.04,116.17 L89.14,116.17 L89.24,116.17 L89.35,116.17 L89.45,116.17 L89.56,116.17 L89.66,116.17 L89.76,116.17 L89.87,116.17 L89.97,116.17 L90.08,116.17 L90.18,116.17 L90.28,116.17 L90.39,116.17 L90.49,116.17 L90.6,116.17 L90.7,116.17 L90.8,116.18 L90.91,116.18 L91.01,116.18 L91.12,116.18 L91.22,116.18 L91.32,116.18 L91.43,116.18 L91.53,116.18 L91.64,116.18 L91.74,116.18 L91.84,116.18 L91.95,116.18 L92.05,116.18 L92.16,116.18 L92.26,116.18 L92.36,116.18 L92.47,116.18 L92.57,116.18 L92.68,116.18 L92.78,116.18 L92.88,116.18 L92.99,116.18 L93.09,116.18 L93.2,116.18 L93.3,116.18 L93.4,116.18 L93.51,116.18 L93.61,116.18 L93.72,116.18 L93.82,116.18 L93.92,116.18 L94.03,116.18 L94.13,116.18 L94.24,116.18 L94.34,116.18 L94.44,116.18 L94.55,116.18 L94.65,116.18 L94.76,116.18 L94.86,116.18 L94.96,116.18 L95.07,116.18 L95.17,116.18 L95.28,116.18 L95.38,116.18 L95.48,116.18 L95.59,116.18 L95.69,116.18 L95.8,116.18 L95.9,116.18 L96,116.18 L96.11,116.18 L96.21,116.18 L96.32,116.18 L96.42,116.18 L96.52,116.18 L96.63,116.18 L96.73,116.18 L96.84,116.18 L96.94,116.18 L97.04,116.18 L97.15,116.18 L97.25,116.18 L97.36,116.18 L97.46,116.18 L97.56,116.18 L97.67,116.18 L97.77,116.18 L97.88,116.18 L97.98,116.18 L98.08,116.18 L98.19,116.18 L98.29,116.18 L98.4,116.18 L98.5,116.18 L98.6,116.18 L98.71,116.18 L98.81,116.18 L98.92,116.18 L99.02,116.18 L99.12,116.18 L99.23,116.18 L99.33,116.18 L99.44,116.18 L99.54,116.18 L99.64,116.18 L99.75,116.18 L99.85,116.18 L99.96,116.18 L100.06,116.18 L100.16,116.18 L100.27,116.18 L100.37,116.18 L100.48,116.18 L100.58,116.18 L100.68,116.18 L100.79,116.18 L100.89,116.18 L101,116.18 L101.1,116.18 L101.2,116.18 L101.31,116.18 L101.41,116.18 L101.52,116.18 L101.62,116.18 L101.72,116.18 L101.83,116.18 L101.93,116.18 L102.04,116.18 L102.14,116.18 L102.24,116.18 L102.35,116.18 L102.45,116.18 L102.56,116.18 L102.66,116.18 L102.76,116.18 L102.87,116.18 L102.97,116.18 L103.08,116.18 L103.18,116.18 L103.28,116.18 L103.39,116.18 L103.49,116.18 L103.6,116.18 L103.7,116.18 L103.8,116.18 L103.91,116.18 L104.01,116.18 L104.12,116.18 L104.22,116.18 L104.32,116.18 L104.43,116.18 L104.53,116.18 L104.64,116.18 L104.74,116.18 L104.84,116.18 L104.95,116.18 L105.05,116.18 L105.16,116.17 L105.26,116.17 L105.36,116.17 L105.47,116.17 L105.57,116.17 L105.68,116.17 L105.78,116.17 L105.88,116.17 L105.99,116.17 L106.09,116.17 L106.2,116.17 L106.3,116.17 L106.4,116.17 L106.51,116.17 L106.61,116.17 L106.72,116.17 L106.82,116.17 L106.92,116.17 L107.03,116.17 L107.13,116.17 L107.24,116.17 L107.34,116.17 L107.44,116.17 L107.55,116.16 L107.65,116.16 L107.76,116.16 L107.86,116.16 L107.96,116.16 L108.07,116.16 L108.17,116.16 L108.28,116.16 L108.38,116.16 L108.48,116.16 L108.59,116.16 L108.69,116.16 L108.8,116.15 L108.9,116.15 L109,116.15 L109.11,116.15 L109.21,116.15 L109.32,116.15 L109.42,116.15 L109.52,116.15 L109.63,116.14 L109.73,116.14 L109.84,116.14 L109.94,116.14 L110.04,116.14 L110.15,116.13 L110.25,116.13 L110.36,116.13 L110.46,116.13 L110.56,116.12 L110.67,116.12 L110.77,116.12 L110.88,116.11 L110.98,116.11 L111.08,116.11 L111.19,116.1 L111.29,116.1 L111.4,116.09 L111.5,116.09 L111.6,116.08 L111.71,116.08 L111.81,116.07 L111.92,116.06 L112.02,116.06 L112.12,116.05 L112.23,116.04 L112.33,116.03 L112.44,116.02 L112.54,116 L112.64,115.99 L112.75,115.97 L112.85,115.96 L112.96,115.94 L113.06,115.91 L113.16,115.89 L113.27,115.86 L113.37,115.83 L113.48,115.79 L113.58,115.75 L113.68,115.7 L113.79,115.64 L113.89,115.57 L114,115.49 L114.1,115.39 L114.2,115.27 L114.31,115.13 L114.41,114.96 L114.52,114.75 L114.62,114.5 L114.72,114.19 L114.83,113.83 L114.93,113.42 L115.04,112.99 L115.14,112.59 L115.24,112.3 L115.35,112.19 L115.45,112.3 L115.56,112.59 L115.66,112.99 L115.76,113.42 L115.87,113.83 L115.97,114.19 L116.08,114.5 L116.18,114.75 L116.28,114.96 L116.39,115.13 L116.49,115.27 L116.6,115.39 L116.7,115.49 L116.8,115.57 L116.91,115.64 L117.01,115.7 L117.12,115.75 L117.22,115.79 L117.32,115.83 L117.43,115.86 L117.53,115.89 L117.64,115.91 L117.74,115.94 L117.84,115.96 L117.95,115.97 L118.05,115.99 L118.16,116 L118.26,116.01 L118.36,116.03 L118.47,116.04 L118.57,116.05 L118.68,116.05 L118.78,116.06 L118.88,116.07 L118.99,116.08 L119.09,116.08 L119.2,116.09 L119.3,116.09 L119.4,116.1 L119.51,116.1 L119.61,116.11 L119.72,116.11 L119.82,116.11 L119.92,116.12 L120.03,116.12 L120.13,116.12 L120.24,116.13 L120.34,116.13 L120.44,116.13 L120.55,116.13 L120.65,116.14 L120.76,116.14 L120.86,116.14 L120.96,116.14 L121.07,116.14 L121.17,116.14 L121.28,116.15 L121.38,116.15 L121.48,116.15 L121.59,116.15 L121.69,116.15 L121.8,116.15 L121.9,116.15 L122,116.15 L122.11,116.16 L122.21,116.16 L122.32,116.16 L122.42,116.16 L122.52,116.16 L122.63,116.16 L122.73,116.16 L122.84,116.16 L122.94,116.16 L123.04,116.16 L123.15,116.16 L123.25,116.16 L123.36,116.16 L123.46,116.17 L123.56,116.17 L123.67,116.17 L123.77,116.17 L123.88,116.17 L123.98,116.17 L124.08,116.17 L124.19,116.17 L124.29,116.17 L124.4,116.17 L124.5,116.17 L124.6,116.17 L124.71,116.17 L124.81,116.17 L124.92,116.17 L125.02,116.17 L125.12,116.17 L125.23,116.17 L125.33,116.17 L125.44,116.17 L125.54,116.17 L125.64,116.17 L125.75,116.17 L125.85,116.17 L125.96,116.17 L126.06,116.17 L126.16,116.17 L126.27,116.17 L126.37,116.17 L126.48,116.17 L126.58,116.17 L126.68,116.17 L126.79,116.17 L126.89,116.17 L127,116.17 L127.1,116.17 L127.2,116.17 L127.31,116.17 L127.41,116.17 L127.52,116.17 L127.62,116.18 L127.72,116.18 L127.83,116.18 L127.93,116.18 L128.04,116.18 L128.14,116.18 L128.24,116.18 L128.35,116.18 L128.45,116.18 L128.56,116.18 L128.66,116.18 L128.76,116.18 L128.87,116.18 L128.97,116.18 L129.08,116.18 L129.18,116.18 L129.28,116.18 L129.39,116.17 L129.49,116.17 L129.6,116.17 L129.7,116.17 L129.8,116.17 L129.91,116.17 L130.01,116.17 L130.12,116.17 L130.22,116.17 L130.32,116.17 L130.43,116.17 L130.53,116.17 L130.64,116.17 L130.74,116.17 L130.84,116.17 L130.95,116.17 L131.05,116.17 L131.16,116.17 L131.26,116.17 L131.36,116.17 L131.47,116.17 L131.57,116.17 L131.68,116.17 L131.78,116.17 L131.88,116.17 L131.99,116.17 L132.09,116.17 L132.2,116.17 L132.3,116.17 L132.4,116.17 L132.51,116.17 L132.61,116.17 L132.72,116.17 L132.82,116.17 L132.92,116.17 L133.03,116.17 L133.13,116.17 L133.24,116.17 L133.34,116.17 L133.44,116.17 L133.55,116.17 L133.65,116.17 L133.76,116.17 L133.86,116.17 L133.96,116.17 L134.07,116.16 L134.17,116.16 L134.28,116.16 L134.38,116.16 L134.48,116.16 L134.59,116.16 L134.69,116.16 L134.8,116.16 L134.9,116.16 L135,116.16 L135.11,116.16 L135.21,116.16 L135.32,116.16 L135.42,116.16 L135.52,116.16 L135.63,116.16 L135.73,116.15 L135.84,116.15 L135.94,116.15 L136.04,116.15 L136.15,116.15 L136.25,116.15 L136.36,116.15 L136.46,116.15 L136.56,116.15 L136.67,116.15 L136.77,116.14 L136.88,116.14 L136.98,116.14 L137.08,116.14 L137.19,116.14 L137.29,116.14 L137.4,116.14 L137.5,116.13 L137.6,116.13 L137.71,116.13 L137.81,116.13 L137.92,116.13 L138.02,116.13 L138.12,116.12 L138.23,116.12 L138.33,116.12 L138.44,116.12 L138.54,116.11 L138.64,116.11 L138.75,116.11 L138.85,116.11 L138.96,116.1 L139.06,116.1 L139.16,116.1 L139.27,116.09 L139.37,116.09 L139.48,116.08 L139.58,116.08 L139.68,116.07 L139.79,116.07 L139.89,116.06 L140,116.06 L140.1,116.05 L140.2,116.05 L140.31,116.04 L140.41,116.03 L140.52,116.02 L140.62,116.02 L140.72,116.01 L140.83,116 L140.93,115.99 L141.04,115.98 L141.14,115.96 L141.24,115.95 L141.35,115.93 L141.45,115.92 L141.56,115.9 L141.66,115.88 L141.76,115.86 L141.87,115.84 L141.97,115.81 L142.08,115.78 L142.18,115.75 L142.28,115.71 L142.39,115.67 L142.49,115.62 L142.6,115.57 L142.7,115.51 L142.8,115.44 L142.91,115.36 L143.01,115.26 L143.12,115.15 L143.22,115.02 L143.32,114.87 L143.43,114.69 L143.53,114.47 L143.64,114.2 L143.74,113.88 L143.84,113.49 L143.95,113.01 L144.05,112.44 L144.16,111.76 L144.26,110.99 L144.36,110.19 L144.47,109.44 L144.57,108.89 L144.68,108.68 L144.78,108.89 L144.88,109.43 L144.99,110.18 L145.09,110.99 L145.2,111.76 L145.3,112.43 L145.4,113.01 L145.51,113.48 L145.61,113.87 L145.72,114.2 L145.82,114.46 L145.92,114.68 L146.03,114.86 L146.13,115.02 L146.24,115.15 L146.34,115.25 L146.44,115.35 L146.55,115.43 L146.65,115.5 L146.76,115.56 L146.86,115.61 L146.96,115.66 L147.07,115.7 L147.17,115.73 L147.28,115.77 L147.38,115.79 L147.48,115.82 L147.59,115.84 L147.69,115.86 L147.8,115.88 L147.9,115.9 L148,115.91 L148.11,115.93 L148.21,115.94 L148.32,115.95 L148.42,115.96 L148.52,115.97 L148.63,115.98 L148.73,115.99 L148.84,115.99 L148.94,116 L149.04,116.01 L149.15,116.01 L149.25,116.01 L149.36,116.02 L149.46,116.02 L149.56,116.02 L149.67,116.03 L149.77,116.03 L149.88,116.03 L149.98,116.03 L150.08,116.03 L150.19,116.03 L150.29,116.03 L150.4,116.03 L150.5,116.03 L150.6,116.02 L150.71,116.02 L150.81,116.02 L150.92,116.01 L151.02,116.01 L151.12,116 L151.23,115.99 L151.33,115.98 L151.44,115.97 L151.54,115.96 L151.64,115.95 L151.75,115.93 L151.85,115.91 L151.96,115.89 L152.06,115.87 L152.16,115.84 L152.27,115.8 L152.37,115.76 L152.48,115.71 L152.58,115.65 L152.68,115.58 L152.79,115.49 L152.89,115.39 L153,115.26 L153.1,115.1 L153.2,114.91 L153.31,114.68 L153.41,114.43 L153.52,114.16 L153.62,113.91 L153.72,113.73 L153.83,113.66 L153.93,113.73 L154.04,113.91 L154.14,114.16 L154.24,114.43 L154.35,114.69 L154.45,114.92 L154.56,115.11 L154.66,115.27 L154.76,115.4 L154.87,115.51 L154.97,115.6 L155.08,115.67 L155.18,115.73 L155.28,115.78 L155.39,115.83 L155.49,115.86 L155.6,115.9 L155.7,115.92 L155.8,115.95 L155.91,115.97 L156.01,115.99 L156.12,116 L156.22,116.02 L156.32,116.03 L156.43,116.04 L156.53,116.05 L156.64,116.06 L156.74,116.07 L156.84,116.08 L156.95,116.08 L157.05,116.09 L157.16,116.09 L157.26,116.1 L157.36,116.1 L157.47,116.11 L157.57,116.11 L157.68,116.12 L157.78,116.12 L157.88,116.12 L157.99,116.13 L158.09,116.13 L158.2,116.13 L158.3,116.13 L158.4,116.14 L158.51,116.14 L158.61,116.14 L158.72,116.14 L158.82,116.14 L158.92,116.15 L159.03,116.15 L159.13,116.15 L159.24,116.15 L159.34,116.15 L159.44,116.15 L159.55,116.16 L159.65,116.16 L159.76,116.16 L159.86,116.16 L159.96,116.16 L160.07,116.16 L160.17,116.16 L160.28,116.16 L160.38,116.16 L160.48,116.16 L160.59,116.17 L160.69,116.17 L160.8,116.17 L160.9,116.17" fill="none" stroke="#7f8c8c" stroke-width="0.9"/>
<line x1="46" y1="117" x2="162" y2="117" stroke="#8a9898" stroke-width="0.9"/>
<line x1="46.5" y1="117" x2="46.5" y2="119" stroke="#8a9898" stroke-width="0.6"/>
<text x="46.5" y="126.6" font-size="5.4" fill="#555" stroke="#555" stroke-width="0.22" text-anchor="middle" font-weight="normal" font-style="normal" >35</text>
<line x1="56.9" y1="117" x2="56.9" y2="119" stroke="#8a9898" stroke-width="0.6"/>
<text x="56.9" y="126.6" font-size="5.4" fill="#555" stroke="#555" stroke-width="0.22" text-anchor="middle" font-weight="normal" font-style="normal" >40</text>
<line x1="67.3" y1="117" x2="67.3" y2="119" stroke="#8a9898" stroke-width="0.6"/>
<text x="67.3" y="126.6" font-size="5.4" fill="#555" stroke="#555" stroke-width="0.22" text-anchor="middle" font-weight="normal" font-style="normal" >45</text>
<line x1="77.7" y1="117" x2="77.7" y2="119" stroke="#8a9898" stroke-width="0.6"/>
<text x="77.7" y="126.6" font-size="5.4" fill="#555" stroke="#555" stroke-width="0.22" text-anchor="middle" font-weight="normal" font-style="normal" >50</text>
<line x1="88.1" y1="117" x2="88.1" y2="119" stroke="#8a9898" stroke-width="0.6"/>
<text x="88.1" y="126.6" font-size="5.4" fill="#555" stroke="#555" stroke-width="0.22" text-anchor="middle" font-weight="normal" font-style="normal" >55</text>
<line x1="98.5" y1="117" x2="98.5" y2="119" stroke="#8a9898" stroke-width="0.6"/>
<text x="98.5" y="126.6" font-size="5.4" fill="#555" stroke="#555" stroke-width="0.22" text-anchor="middle" font-weight="normal" font-style="normal" >60</text>
<line x1="108.9" y1="117" x2="108.9" y2="119" stroke="#8a9898" stroke-width="0.6"/>
<text x="108.9" y="126.6" font-size="5.4" fill="#555" stroke="#555" stroke-width="0.22" text-anchor="middle" font-weight="normal" font-style="normal" >65</text>
<line x1="119.3" y1="117" x2="119.3" y2="119" stroke="#8a9898" stroke-width="0.6"/>
<text x="119.3" y="126.6" font-size="5.4" fill="#555" stroke="#555" stroke-width="0.22" text-anchor="middle" font-weight="normal" font-style="normal" >70</text>
<line x1="129.7" y1="117" x2="129.7" y2="119" stroke="#8a9898" stroke-width="0.6"/>
<text x="129.7" y="126.6" font-size="5.4" fill="#555" stroke="#555" stroke-width="0.22" text-anchor="middle" font-weight="normal" font-style="normal" >75</text>
<line x1="140.1" y1="117" x2="140.1" y2="119" stroke="#8a9898" stroke-width="0.6"/>
<text x="140.1" y="126.6" font-size="5.4" fill="#555" stroke="#555" stroke-width="0.22" text-anchor="middle" font-weight="normal" font-style="normal" >80</text>
<line x1="150.5" y1="117" x2="150.5" y2="119" stroke="#8a9898" stroke-width="0.6"/>
<text x="150.5" y="126.6" font-size="5.4" fill="#555" stroke="#555" stroke-width="0.22" text-anchor="middle" font-weight="normal" font-style="normal" >85</text>
<line x1="160.9" y1="117" x2="160.9" y2="119" stroke="#8a9898" stroke-width="0.6"/>
<text x="160.9" y="126.6" font-size="5.4" fill="#555" stroke="#555" stroke-width="0.22" text-anchor="middle" font-weight="normal" font-style="normal" >90</text>
<text x="103" y="135.6" font-size="6" fill="#222" stroke="#222" stroke-width="0.22" text-anchor="middle" font-weight="bold" font-style="italic" >2θ / degree</text>
<text x="0" y="0" font-size="6.4" fill="#333" stroke="#333" stroke-width="0.22" text-anchor="middle" font-weight="bold" font-style="italic" transform="translate(44.3,62.6) rotate(-90)">Intensity / a.u.</text>
<text x="101.3" y="25.6" font-size="6" fill="#ff2d55" stroke="#ff2d55" stroke-width="0.22" text-anchor="middle" font-weight="normal" font-style="normal" >Pd-B</text>
<text x="101" y="52" font-size="5.8" fill="#3a9de0" stroke="#3a9de0" stroke-width="0.22" text-anchor="middle" font-weight="normal" font-style="normal" >Pd-N<tspan font-size="3.8" dy="1">2</tspan><tspan dy="-1">H</tspan><tspan font-size="3.8" dy="1">4</tspan></text>
<text x="99.5" y="79" font-size="5.8" fill="#333" stroke="#333" stroke-width="0.22" text-anchor="middle" font-weight="normal" font-style="normal" >Pd/C</text>
<text x="98.7" y="113" font-size="5.8" fill="#666" stroke="#666" stroke-width="0.22" text-anchor="middle" font-weight="normal" font-style="normal" >Pd plate</text>
<text x="37.6" y="25.6" font-size="10.5" fill="#111" stroke="#111" stroke-width="0.22" text-anchor="middle" font-weight="bold" font-style="normal" >a</text>
<path d="M195.4,38.5 L196.39,38.45 L197.37,38.4 L198.36,38.35 L199.36,38.3 L200.35,38.25 L201.35,38.21 L202.34,38.16 L203.34,38.12 L204.34,38.07 L205.34,38.02 L206.33,37.98 L207.33,37.93 L208.32,37.88 L209.31,37.83 L210.3,37.78 L211.29,37.73 L212.27,37.68 L213.26,37.63 L214.23,37.57 L215.21,37.52 L216.18,37.46 L217.14,37.4 L218.1,37.33 L219.05,37.27 L220,37.2 L221,37.13 L222,37.07 L223.01,37.02 L224.02,36.97 L225.04,36.93 L226.06,36.89 L227.07,36.85 L228.08,36.81 L229.09,36.77 L230.09,36.72 L231.08,36.67 L232.07,36.61 L233.04,36.54 L234,36.46 L234.94,36.36 L235.87,36.26 L236.78,36.13 L237.67,35.99 L238.54,35.82 L239.38,35.64 L240.21,35.43 L241,35.2 L242,34.86 L242.97,34.48 L243.9,34.07 L244.8,33.63 L245.67,33.16 L246.51,32.67 L247.34,32.16 L248.14,31.65 L248.93,31.12 L249.71,30.59 L250.48,30.05 L251.24,29.52 L252,29 L252.8,28.43 L253.57,27.81 L254.31,27.18 L255.04,26.52 L255.75,25.87 L256.46,25.22 L257.16,24.59 L257.86,23.99 L258.56,23.44 L259.28,22.94 L260,22.5 L260.84,22.05 L261.68,21.6 L262.53,21.19 L263.38,20.84 L264.23,20.55 L265.07,20.35 L265.89,20.26 L266.7,20.3 L267.52,20.48 L268.33,20.8 L269.13,21.23 L269.92,21.75 L270.7,22.36 L271.47,23.03 L272.24,23.75 L273,24.5 L273.54,25.11 L274.05,25.81 L274.53,26.59 L274.99,27.43 L275.43,28.31 L275.88,29.23 L276.33,30.16 L276.79,31.1 L277.27,32.02 L277.78,32.92 L278.32,33.78 L278.91,34.58 L279.54,35.31 L280.24,35.96 L281,36.5 L281.71,36.9 L282.47,37.24 L283.28,37.54 L284.12,37.8 L285,38.01 L285.91,38.19 L286.85,38.34 L287.82,38.45 L288.81,38.54 L289.81,38.61 L290.83,38.66 L291.86,38.69 L292.89,38.71 L293.93,38.72 L294.97,38.73 L296,38.73 L297.02,38.74 L298.03,38.75 L299.03,38.77 L300,38.8 L300.95,38.84 L301.9,38.88 L302.87,38.91 L303.85,38.95 L304.83,38.98 L305.82,39 L306.81,39.02 L307.8,39.03 L308.79,39.04 L309.78,39.03 L310.77,39.02 L311.75,38.99 L312.72,38.95 L313.68,38.89 L314.63,38.82 L315.57,38.73 L316.5,38.62 L317.4,38.5 L318.29,38.36 L319.16,38.19 L320,38 L320.98,37.75 L321.94,37.49 L322.89,37.2 L323.83,36.89 L324.75,36.56 L325.65,36.21 L326.54,35.84 L327.41,35.44 L328.27,35.02 L329.1,34.58 L329.92,34.11 L330.72,33.62 L331.5,33.11 L332.26,32.57 L333,32 L333.72,31.38 L334.41,30.71 L335.07,29.98 L335.7,29.21 L336.31,28.41 L336.91,27.59 L337.48,26.75 L338.05,25.9 L338.61,25.05 L339.16,24.22 L339.72,23.4 L340.28,22.61 L340.84,21.86 L341.41,21.15 L342,20.5 L342.71,19.72 L343.43,18.91 L344.14,18.09 L344.85,17.28 L345.56,16.53 L346.27,15.84 L346.97,15.26 L347.68,14.81 L348.39,14.51 L349.1,14.4 L349.87,14.5 L350.65,14.79 L351.44,15.25 L352.23,15.85 L353.01,16.56 L353.78,17.36 L354.54,18.22 L355.28,19.11 L356,20 L356.49,20.67 L356.96,21.42 L357.42,22.23 L357.86,23.11 L358.28,24.03 L358.7,25 L359.11,25.99 L359.52,27 L359.93,28.02 L360.33,29.04 L360.75,30.05 L361.17,31.04 L361.6,32 L362.04,32.92 L362.5,33.79 L362.98,34.6 L363.48,35.34 L364,36 L364.72,36.79 L365.45,37.51 L366.19,38.19 L366.95,38.8 L367.73,39.37 L368.53,39.88 L369.36,40.35 L370.21,40.78 L371.09,41.16 L372,41.5 L372.87,41.76 L373.77,41.95 L374.71,42.09 L375.67,42.17 L376.66,42.22 L377.66,42.24 L378.67,42.24 L379.69,42.24 L380.7,42.23 L381.71,42.23 L382.72,42.25 L383.7,42.3" fill="none" stroke="#ec5670" stroke-width="1.6"/>
<path d="M195.4,59 L196.39,58.92 L197.38,58.84 L198.37,58.76 L199.36,58.68 L200.36,58.6 L201.36,58.52 L202.36,58.45 L203.36,58.37 L204.36,58.29 L205.36,58.21 L206.36,58.13 L207.36,58.05 L208.36,57.97 L209.35,57.9 L210.34,57.82 L211.33,57.74 L212.32,57.66 L213.3,57.58 L214.27,57.5 L215.24,57.41 L216.21,57.33 L217.17,57.25 L218.12,57.17 L219.06,57.08 L220,57 L221.01,56.92 L222.03,56.84 L223.05,56.78 L224.08,56.72 L225.12,56.67 L226.15,56.63 L227.19,56.58 L228.22,56.53 L229.24,56.49 L230.25,56.43 L231.25,56.37 L232.23,56.31 L233.2,56.23 L234.14,56.14 L235.07,56.04 L235.97,55.91 L236.84,55.78 L237.68,55.62 L238.49,55.44 L239.26,55.23 L240,55 L241,54.63 L241.94,54.21 L242.82,53.76 L243.65,53.27 L244.45,52.76 L245.2,52.23 L245.93,51.69 L246.63,51.13 L247.32,50.56 L248,50 L248.71,49.34 L249.36,48.63 L249.96,47.88 L250.54,47.13 L251.11,46.39 L251.7,45.69 L252.32,45.06 L253,44.5 L253.78,43.96 L254.62,43.44 L255.48,42.95 L256.35,42.54 L257.22,42.22 L258.08,42.03 L258.9,42 L259.79,42.15 L260.67,42.48 L261.53,42.95 L262.37,43.55 L263.2,44.24 L264,45 L264.54,45.61 L265.06,46.33 L265.56,47.13 L266.04,48 L266.52,48.92 L266.99,49.86 L267.46,50.81 L267.94,51.75 L268.42,52.66 L268.93,53.52 L269.45,54.3 L270,55 L270.66,55.77 L271.3,56.5 L271.94,57.18 L272.59,57.82 L273.3,58.4 L274.09,58.93 L274.98,59.4 L276,59.8 L276.65,59.99 L277.35,60.15 L278.1,60.28 L278.9,60.38 L279.74,60.46 L280.62,60.51 L281.54,60.54 L282.49,60.54 L283.47,60.53 L284.48,60.5 L285.5,60.45 L286.54,60.4 L287.6,60.33 L288.67,60.25 L289.74,60.16 L290.81,60.07 L291.89,59.97 L292.96,59.88 L294.02,59.78 L295.07,59.68 L296.1,59.59 L297.12,59.5 L298.11,59.43 L299.07,59.36 L300,59.3 L301,59.25 L302.01,59.21 L303.03,59.19 L304.05,59.16 L305.07,59.15 L306.09,59.13 L307.11,59.11 L308.12,59.09 L309.13,59.07 L310.13,59.04 L311.12,59 L312.1,58.94 L313.06,58.87 L314.01,58.79 L314.94,58.68 L315.84,58.55 L316.73,58.4 L317.59,58.22 L318.42,58.01 L319.23,57.77 L320,57.5 L320.95,57.11 L321.86,56.67 L322.73,56.19 L323.58,55.68 L324.39,55.14 L325.18,54.56 L325.93,53.96 L326.67,53.34 L327.37,52.7 L328.06,52.04 L328.72,51.37 L329.37,50.69 L330,50 L330.62,49.24 L331.19,48.42 L331.72,47.54 L332.22,46.63 L332.69,45.7 L333.14,44.76 L333.58,43.84 L334.03,42.95 L334.49,42.11 L334.96,41.32 L335.46,40.62 L336,40 L336.7,39.31 L337.43,38.64 L338.17,38.03 L338.92,37.52 L339.68,37.12 L340.44,36.87 L341.2,36.8 L341.92,36.92 L342.64,37.2 L343.36,37.62 L344.08,38.16 L344.81,38.79 L345.54,39.49 L346.27,40.23 L347,41 L347.52,41.59 L348.04,42.25 L348.55,42.98 L349.06,43.75 L349.56,44.57 L350.07,45.43 L350.58,46.32 L351.09,47.23 L351.61,48.15 L352.13,49.08 L352.65,50 L353.18,50.91 L353.72,51.8 L354.28,52.66 L354.84,53.49 L355.41,54.27 L356,55 L356.65,55.76 L357.29,56.52 L357.93,57.26 L358.58,57.99 L359.24,58.71 L359.9,59.41 L360.58,60.08 L361.27,60.74 L361.99,61.36 L362.73,61.96 L363.5,62.53 L364.3,63.06 L365.13,63.55 L366,64 L366.82,64.36 L367.68,64.68 L368.57,64.96 L369.49,65.2 L370.44,65.41 L371.41,65.59 L372.4,65.74 L373.41,65.88 L374.44,66 L375.47,66.1 L376.51,66.2 L377.56,66.29 L378.6,66.39 L379.64,66.49 L380.67,66.59 L381.7,66.71 L382.71,66.84 L383.7,67" fill="none" stroke="#4aaae2" stroke-width="1.6"/>
<path d="M195.5,77.75 L197.1,78.43 L198.7,77.44 L200.3,77.14 L201.9,77.74 L203.5,77.03 L205.1,77.4 L206.7,76.62 L208.3,76.29 L209.9,76.91 L211.5,76.67 L213.1,76.65 L214.7,76.34 L216.3,75.45 L217.9,75.87 L219.5,75.79 L221.1,75.25 L222.7,75.48 L224.3,74.43 L225.9,74.92 L227.5,74.35 L229.1,73.28 L230.7,72.99 L232.3,73.39 L233.9,73.28 L235.5,72.17 L237.1,72.13 L238.7,72.29 L240.3,71.37 L241.9,71.8 L243.5,71.05 L245.1,70.24 L246.7,70.24 L248.3,70.14 L249.9,69.65 L251.5,69.57 L253.1,68.65 L254.7,69.03 L256.3,68.22 L257.9,68.19 L259.5,68.14 L261.1,68.52 L262.7,69.11 L264.3,70.17 L265.9,70.96 L267.5,71.41 L269.1,71.79 L270.7,72.11 L272.3,72.47 L273.9,74.1 L275.5,74.35 L277.1,74.89 L278.7,74.74 L280.3,75.44 L281.9,76.25 L283.5,76.49 L285.1,76.64 L286.7,76.71 L288.3,77.25 L289.9,78.15 L291.5,77.76 L293.1,77.77 L294.7,77.35 L296.3,77.34 L297.9,76.91 L299.5,76 L301.1,75.36 L302.7,75.32 L304.3,75.16 L305.9,75.01 L307.5,74.93 L309.1,74.68 L310.7,73.42 L312.3,73.96 L313.9,73.6 L315.5,73.33 L317.1,72.68 L318.7,72.02 L320.3,72.29 L321.9,71.7 L323.5,71.03 L325.1,70.75 L326.7,69.59 L328.3,68.76 L329.9,68.74 L331.5,68.48 L333.1,67.28 L334.7,67.35 L336.3,67.02 L337.9,65.71 L339.5,65.59 L341.1,65.13 L342.7,64.36 L344.3,64.51 L345.9,65.22 L347.5,66.43 L349.1,67.13 L350.7,67.42 L352.3,67.79 L353.9,69.87 L355.5,71.12 L357.1,71.81 L358.7,73.48 L360.3,75.12 L361.9,76.4 L363.5,77.29 L365.1,78.53 L366.7,79.94 L368.3,80.79 L369.9,82.08 L371.5,82.31 L373.1,83.05 L374.7,82.85 L376.3,83.25 L377.9,83.24 L379.5,83.54 L381.1,83.3 L382.7,83.36" fill="none" stroke="#111" stroke-width="1.5" stroke-linejoin="round"/>
<path d="M195.5,112 L196.47,111.92 L197.45,111.83 L198.42,111.75 L199.39,111.67 L200.35,111.59 L201.32,111.52 L202.29,111.44 L203.26,111.36 L204.23,111.28 L205.2,111.2 L206.17,111.12 L207.14,111.04 L208.11,110.96 L209.09,110.87 L210.06,110.78 L211.04,110.69 L212.03,110.6 L213.01,110.5 L214.01,110.4 L215,110.3 L215.96,110.2 L216.94,110.12 L217.92,110.04 L218.92,109.97 L219.93,109.9 L220.95,109.83 L221.97,109.76 L223,109.7 L224.02,109.63 L225.04,109.55 L226.06,109.47 L227.08,109.38 L228.08,109.28 L229.08,109.16 L230.06,109.03 L231.03,108.89 L231.98,108.73 L232.91,108.55 L233.82,108.35 L234.71,108.12 L235.57,107.88 L236.4,107.6 L237.38,107.23 L238.35,106.81 L239.29,106.36 L240.2,105.88 L241.1,105.38 L241.98,104.85 L242.84,104.3 L243.67,103.74 L244.49,103.17 L245.29,102.6 L246.07,102.02 L246.83,101.45 L247.57,100.88 L248.29,100.33 L249,99.8 L249.81,99.16 L250.57,98.49 L251.3,97.81 L251.99,97.12 L252.66,96.44 L253.32,95.78 L253.98,95.14 L254.64,94.54 L255.31,93.99 L256,93.5 L256.83,92.96 L257.66,92.44 L258.5,91.96 L259.33,91.54 L260.16,91.21 L260.99,90.99 L261.8,90.9 L262.69,90.95 L263.58,91.13 L264.47,91.43 L265.34,91.84 L266.19,92.37 L267,93 L267.55,93.56 L268.08,94.24 L268.57,95.02 L269.05,95.88 L269.51,96.79 L269.97,97.75 L270.43,98.71 L270.9,99.67 L271.39,100.6 L271.89,101.48 L272.43,102.29 L273,103 L273.68,103.74 L274.35,104.44 L275.03,105.09 L275.73,105.71 L276.46,106.29 L277.24,106.84 L278.08,107.35 L279,107.84 L280,108.3 L280.71,108.59 L281.46,108.86 L282.26,109.12 L283.09,109.37 L283.96,109.6 L284.86,109.83 L285.79,110.04 L286.75,110.23 L287.73,110.42 L288.73,110.58 L289.74,110.74 L290.77,110.88 L291.8,111.01 L292.84,111.12 L293.89,111.22 L294.93,111.31 L295.96,111.37 L296.99,111.43 L298.01,111.47 L299.01,111.49 L300,111.5 L300.94,111.49 L301.9,111.47 L302.88,111.43 L303.87,111.38 L304.87,111.31 L305.88,111.22 L306.89,111.13 L307.91,111.01 L308.93,110.89 L309.94,110.75 L310.96,110.61 L311.96,110.44 L312.96,110.27 L313.95,110.09 L314.93,109.89 L315.89,109.69 L316.84,109.47 L317.76,109.25 L318.66,109.02 L319.54,108.77 L320.39,108.52 L321.21,108.27 L322,108 L323.01,107.64 L324,107.27 L324.95,106.88 L325.87,106.48 L326.77,106.07 L327.64,105.63 L328.48,105.17 L329.29,104.69 L330.08,104.18 L330.85,103.64 L331.59,103.06 L332.3,102.45 L333,101.8 L333.64,101.12 L334.24,100.37 L334.81,99.56 L335.35,98.71 L335.86,97.83 L336.34,96.92 L336.82,96 L337.27,95.07 L337.72,94.15 L338.17,93.25 L338.61,92.37 L339.07,91.53 L339.53,90.74 L340,90 L340.57,89.12 L341.13,88.19 L341.67,87.26 L342.21,86.36 L342.75,85.52 L343.3,84.78 L343.88,84.17 L344.47,83.73 L345.1,83.5 L345.89,83.5 L346.72,83.74 L347.58,84.18 L348.45,84.77 L349.33,85.47 L350.18,86.23 L351,87 L351.58,87.59 L352.15,88.26 L352.71,88.98 L353.27,89.76 L353.82,90.58 L354.36,91.44 L354.89,92.32 L355.42,93.21 L355.95,94.11 L356.47,95.01 L356.98,95.9 L357.49,96.76 L358,97.6 L358.48,98.41 L358.96,99.23 L359.42,100.06 L359.87,100.89 L360.32,101.73 L360.76,102.57 L361.21,103.4 L361.65,104.22 L362.1,105.02 L362.56,105.81 L363.03,106.57 L363.51,107.3 L364,108 L364.61,108.84 L365.2,109.65 L365.78,110.44 L366.38,111.2 L367,111.93 L367.65,112.63 L368.36,113.29 L369.14,113.91 L370,114.5 L370.73,114.92 L371.51,115.29 L372.35,115.64 L373.23,115.96 L374.14,116.25 L375.09,116.52 L376.06,116.77 L377.06,117.01 L378.06,117.24 L379.07,117.47 L380.08,117.7 L381.09,117.93 L382.08,118.18 L383.05,118.43 L384,118.7" fill="none" stroke="#a9b1b1" stroke-width="1.6"/>
<path d="M349.1,16 L349.1,27 L341.8,32.5 L341.8,62" fill="none" stroke="#999" stroke-width="0.7" stroke-dasharray="1.2,1"/>
<path d="M342.4,64 L345,66 L345,83" fill="none" stroke="#999" stroke-width="0.7" stroke-dasharray="1.2,1"/>
<line x1="195.5" y1="120" x2="383.5" y2="120" stroke="#aab" stroke-width="0.8"/>
<line x1="195.5" y1="120" x2="195.5" y2="118" stroke="#99a" stroke-width="0.6"/>
<text x="195.5" y="128.5" font-size="5.2" fill="#555" stroke="#555" stroke-width="0.22" text-anchor="middle" font-weight="normal" font-style="normal" >345</text>
<line x1="226.75" y1="120" x2="226.75" y2="118" stroke="#99a" stroke-width="0.6"/>
<text x="226.75" y="128.5" font-size="5.2" fill="#555" stroke="#555" stroke-width="0.22" text-anchor="middle" font-weight="normal" font-style="normal" >343</text>
<line x1="258" y1="120" x2="258" y2="118" stroke="#99a" stroke-width="0.6"/>
<text x="258" y="128.5" font-size="5.2" fill="#555" stroke="#555" stroke-width="0.22" text-anchor="middle" font-weight="normal" font-style="normal" >341</text>
<line x1="289.25" y1="120" x2="289.25" y2="118" stroke="#99a" stroke-width="0.6"/>
<text x="289.25" y="128.5" font-size="5.2" fill="#555" stroke="#555" stroke-width="0.22" text-anchor="middle" font-weight="normal" font-style="normal" >339</text>
<line x1="320.5" y1="120" x2="320.5" y2="118" stroke="#99a" stroke-width="0.6"/>
<text x="320.5" y="128.5" font-size="5.2" fill="#555" stroke="#555" stroke-width="0.22" text-anchor="middle" font-weight="normal" font-style="normal" >337</text>
<line x1="351.75" y1="120" x2="351.75" y2="118" stroke="#99a" stroke-width="0.6"/>
<text x="351.75" y="128.5" font-size="5.2" fill="#555" stroke="#555" stroke-width="0.22" text-anchor="middle" font-weight="normal" font-style="normal" >335</text>
<line x1="383" y1="120" x2="383" y2="118" stroke="#99a" stroke-width="0.6"/>
<text x="383" y="128.5" font-size="5.2" fill="#555" stroke="#555" stroke-width="0.22" text-anchor="middle" font-weight="normal" font-style="normal" >333</text>
<text x="289.5" y="139.2" font-size="5.1" fill="#1f2a3a" stroke="#1f2a3a" stroke-width="0.22" text-anchor="middle" font-weight="bold" font-style="italic" >Binding energy / eV</text>
<text x="0" y="0" font-size="5.2" fill="#333" stroke="#333" stroke-width="0.22" text-anchor="middle" font-weight="bold" font-style="italic" transform="translate(186.2,83.6) rotate(-90)">Intensity / a.u.</text>
<text x="307.7" y="34.3" font-size="5.6" fill="#ec5670" stroke="#ec5670" stroke-width="0.22" text-anchor="middle" font-weight="normal" font-style="normal" >PdB</text>
<text x="304.6" y="55" font-size="5.6" fill="#4aaae2" stroke="#4aaae2" stroke-width="0.22" text-anchor="middle" font-weight="normal" font-style="normal" >Pd-N<tspan font-size="3.6" dy="1">2</tspan><tspan dy="-1">H</tspan><tspan font-size="3.6" dy="1">4</tspan></text>
<text x="303.2" y="71.7" font-size="5.6" fill="#333" stroke="#333" stroke-width="0.22" text-anchor="middle" font-weight="normal" font-style="normal" >Pd/C</text>
<text x="302.3" y="105.6" font-size="5" fill="#7a8585" stroke="#7a8585" stroke-width="0.22" text-anchor="middle" font-weight="normal" font-style="normal" >Pd plate</text>
<text x="361" y="11" font-size="5" fill="#444" stroke="#444" stroke-width="0.22" text-anchor="middle" font-weight="normal" font-style="normal" >335.16</text>
<text x="353" y="39" font-size="5" fill="#444" stroke="#444" stroke-width="0.22" text-anchor="middle" font-weight="normal" font-style="normal" >335.74</text>
<text x="352" y="64.6" font-size="5" fill="#444" stroke="#444" stroke-width="0.22" text-anchor="middle" font-weight="normal" font-style="normal" >335.63</text>
<text x="353.5" y="82.8" font-size="5" fill="#444" stroke="#444" stroke-width="0.22" text-anchor="middle" font-weight="normal" font-style="normal" >335.40</text>
<text x="199.6" y="26.4" font-size="10.5" fill="#111" stroke="#111" stroke-width="0.22" text-anchor="middle" font-weight="bold" font-style="normal" >b</text>
<rect x="23.6" y="145.5" width="164.8" height="113" fill="none" stroke="#3d4b5c" stroke-width="1.2"/>
<line x1="23.6" y1="145.5" x2="25.2" y2="145.5" stroke="#c8d0d8" stroke-width="0.6"/>
<text x="17.8" y="147.9" font-size="6.8" fill="#4a5560" stroke="#4a5560" stroke-width="0.22" text-anchor="end" font-weight="normal" font-style="normal" >0</text>
<line x1="23.6" y1="164.35" x2="25.2" y2="164.35" stroke="#c8d0d8" stroke-width="0.6"/>
<text x="17.8" y="166.75" font-size="6.8" fill="#4a5560" stroke="#4a5560" stroke-width="0.22" text-anchor="end" font-weight="normal" font-style="normal" >-1</text>
<line x1="23.6" y1="183.2" x2="25.2" y2="183.2" stroke="#c8d0d8" stroke-width="0.6"/>
<text x="17.8" y="185.6" font-size="6.8" fill="#4a5560" stroke="#4a5560" stroke-width="0.22" text-anchor="end" font-weight="normal" font-style="normal" >-2</text>
<line x1="23.6" y1="202.05" x2="25.2" y2="202.05" stroke="#c8d0d8" stroke-width="0.6"/>
<text x="17.8" y="204.45" font-size="6.8" fill="#4a5560" stroke="#4a5560" stroke-width="0.22" text-anchor="end" font-weight="normal" font-style="normal" >-3</text>
<line x1="23.6" y1="220.9" x2="25.2" y2="220.9" stroke="#c8d0d8" stroke-width="0.6"/>
<text x="17.8" y="223.3" font-size="6.8" fill="#4a5560" stroke="#4a5560" stroke-width="0.22" text-anchor="end" font-weight="normal" font-style="normal" >-4</text>
<line x1="23.6" y1="239.75" x2="25.2" y2="239.75" stroke="#c8d0d8" stroke-width="0.6"/>
<text x="17.8" y="242.15" font-size="6.8" fill="#4a5560" stroke="#4a5560" stroke-width="0.22" text-anchor="end" font-weight="normal" font-style="normal" >-5</text>
<line x1="23.6" y1="258.6" x2="25.2" y2="258.6" stroke="#c8d0d8" stroke-width="0.6"/>
<text x="17.8" y="261" font-size="6.8" fill="#4a5560" stroke="#4a5560" stroke-width="0.22" text-anchor="end" font-weight="normal" font-style="normal" >-6</text>
<text x="23.6" y="269.6" font-size="6.6" fill="#4a5560" stroke="#4a5560" stroke-width="0.22" text-anchor="middle" font-weight="normal" font-style="normal" >0.5</text>
<text x="56.58" y="269.6" font-size="6.6" fill="#4a5560" stroke="#4a5560" stroke-width="0.22" text-anchor="middle" font-weight="normal" font-style="normal" >0.6</text>
<text x="89.56" y="269.6" font-size="6.6" fill="#4a5560" stroke="#4a5560" stroke-width="0.22" text-anchor="middle" font-weight="normal" font-style="normal" >0.7</text>
<text x="122.54" y="269.6" font-size="6.6" fill="#4a5560" stroke="#4a5560" stroke-width="0.22" text-anchor="middle" font-weight="normal" font-style="normal" >0.8</text>
<text x="155.52" y="269.6" font-size="6.6" fill="#4a5560" stroke="#4a5560" stroke-width="0.22" text-anchor="middle" font-weight="normal" font-style="normal" >0.9</text>
<text x="188.5" y="269.6" font-size="6.6" fill="#4a5560" stroke="#4a5560" stroke-width="0.22" text-anchor="middle" font-weight="normal" font-style="normal" >1</text>
<text x="113" y="276.6" font-size="6.3" fill="#222" stroke="#222" stroke-width="0.22" text-anchor="middle" font-weight="bold" font-style="italic" >Potential v.s. RHE / V</text>
<text x="0" y="0" font-size="6.2" fill="#222" stroke="#222" stroke-width="0.22" text-anchor="middle" font-weight="bold" font-style="italic" transform="translate(8.2,203) rotate(-90)">Current / mA cm<tspan font-size="4.2" dy="-2">-2</tspan></text>
<path d="M23.6,190.3 L24.58,190.17 L25.55,190.06 L26.52,189.95 L27.48,189.84 L28.45,189.73 L29.41,189.62 L30.39,189.51 L31.36,189.38 L32.35,189.24 L33.35,189.08 L34.37,188.9 L35.4,188.7 L36.31,188.5 L37.25,188.29 L38.19,188.06 L39.16,187.82 L40.13,187.57 L41.11,187.3 L42.09,187.03 L43.08,186.75 L44.07,186.46 L45.06,186.16 L46.04,185.87 L47.02,185.57 L47.98,185.27 L48.94,184.98 L49.88,184.69 L50.8,184.4 L51.75,184.1 L52.7,183.8 L53.63,183.49 L54.55,183.18 L55.47,182.87 L56.38,182.55 L57.28,182.24 L58.19,181.92 L59.08,181.6 L59.98,181.28 L60.88,180.96 L61.78,180.64 L62.69,180.32 L63.6,180 L64.51,179.68 L65.42,179.34 L66.32,179.01 L67.22,178.67 L68.12,178.33 L69.01,177.99 L69.91,177.65 L70.82,177.31 L71.73,176.98 L72.64,176.65 L73.57,176.33 L74.5,176.01 L75.44,175.7 L76.4,175.4 L77.32,175.12 L78.25,174.85 L79.19,174.59 L80.13,174.32 L81.09,174.07 L82.05,173.81 L83.02,173.56 L83.99,173.32 L84.97,173.08 L85.95,172.84 L86.93,172.61 L87.9,172.38 L88.88,172.15 L89.86,171.93 L90.83,171.71 L91.8,171.5 L92.77,171.29 L93.74,171.09 L94.73,170.9 L95.73,170.71 L96.73,170.52 L97.73,170.34 L98.72,170.16 L99.72,169.99 L100.71,169.82 L101.68,169.64 L102.65,169.47 L103.6,169.3 L104.53,169.13 L105.45,168.95 L106.34,168.78 L107.2,168.6 L108.27,168.37 L109.31,168.14 L110.33,167.91 L111.32,167.68 L112.29,167.45 L113.24,167.22 L114.18,166.99 L115.1,166.76 L116,166.53 L116.9,166.3 L117.85,166.06 L118.77,165.82 L119.67,165.59 L120.56,165.36 L121.43,165.12 L122.29,164.86 L123.15,164.59 L124,164.3 L124.94,163.95 L125.87,163.58 L126.78,163.2 L127.69,162.8 L128.59,162.38 L129.49,161.95 L130.4,161.5 L131.23,161.08 L132.05,160.64 L132.88,160.2 L133.71,159.73 L134.53,159.26 L135.35,158.78 L136.18,158.29 L137,157.8 L137.76,157.33 L138.51,156.84 L139.26,156.34 L140.02,155.84 L140.77,155.33 L141.52,154.82 L142.28,154.33 L143.04,153.85 L143.8,153.4 L144.63,152.93 L145.46,152.47 L146.29,152.03 L147.13,151.59 L147.96,151.18 L148.81,150.77 L149.65,150.38 L150.5,150 L151.34,149.64 L152.18,149.29 L153.03,148.96 L153.88,148.64 L154.73,148.33 L155.59,148.04 L156.44,147.76 L157.3,147.5 L158.25,147.23 L159.21,146.98 L160.16,146.75 L161.12,146.53 L162.07,146.34 L163.04,146.16 L164,146 L164.94,145.86 L165.84,145.75 L166.74,145.66 L167.66,145.58 L168.62,145.52 L169.66,145.46 L170.8,145.4 L171.57,145.37 L172.39,145.34 L173.26,145.32 L174.16,145.31 L175.09,145.3 L176.06,145.29 L177.05,145.28 L178.06,145.28 L179.09,145.28 L180.13,145.29 L181.18,145.29 L182.23,145.29 L183.28,145.3 L184.33,145.3 L185.37,145.3 L186.4,145.31 L187.41,145.3 L188.4,145.3" fill="none" stroke="#111" stroke-width="1.5"/>
<path d="M23.6,228.3 L24.58,228.29 L25.55,228.29 L26.52,228.28 L27.5,228.28 L28.47,228.28 L29.44,228.29 L30.4,228.29 L31.37,228.3 L32.34,228.31 L33.31,228.31 L34.28,228.32 L35.25,228.32 L36.22,228.33 L37.19,228.33 L38.16,228.33 L39.13,228.33 L40.11,228.32 L41.08,228.31 L42.06,228.3 L43.04,228.28 L44.03,228.26 L45.01,228.23 L46,228.2 L47,228.16 L47.99,228.11 L48.99,228.06 L50,228 L50.95,227.94 L51.91,227.88 L52.88,227.82 L53.87,227.76 L54.87,227.7 L55.88,227.64 L56.89,227.57 L57.92,227.5 L58.95,227.43 L59.98,227.36 L61.01,227.28 L62.05,227.21 L63.08,227.12 L64.11,227.03 L65.14,226.94 L66.17,226.84 L67.19,226.74 L68.2,226.63 L69.2,226.51 L70.19,226.39 L71.17,226.26 L72.14,226.13 L73.09,225.98 L74.02,225.83 L74.94,225.67 L75.84,225.5 L76.72,225.32 L77.58,225.13 L78.41,224.93 L79.22,224.72 L80,224.5 L81.05,224.18 L82.06,223.85 L83.03,223.5 L83.98,223.14 L84.89,222.77 L85.78,222.38 L86.65,221.98 L87.5,221.56 L88.33,221.13 L89.15,220.69 L89.95,220.23 L90.75,219.75 L91.54,219.26 L92.32,218.76 L93.11,218.24 L93.9,217.7 L94.69,217.14 L95.46,216.56 L96.22,215.96 L96.97,215.34 L97.7,214.7 L98.42,214.05 L99.14,213.38 L99.84,212.7 L100.54,212.01 L101.24,211.31 L101.93,210.6 L102.63,209.89 L103.32,209.17 L104.01,208.45 L104.7,207.72 L105.4,207 L106.06,206.31 L106.73,205.62 L107.4,204.91 L108.08,204.19 L108.75,203.46 L109.43,202.72 L110.1,201.98 L110.77,201.24 L111.44,200.49 L112.09,199.74 L112.74,198.98 L113.38,198.23 L114.01,197.48 L114.62,196.73 L115.22,195.99 L115.8,195.25 L116.36,194.52 L116.9,193.8 L117.51,192.96 L118.09,192.11 L118.64,191.28 L119.17,190.44 L119.68,189.61 L120.18,188.78 L120.66,187.96 L121.14,187.13 L121.62,186.3 L122.1,185.48 L122.59,184.65 L123.09,183.83 L123.6,183 L124.12,182.17 L124.64,181.34 L125.16,180.5 L125.67,179.66 L126.19,178.82 L126.71,177.98 L127.24,177.15 L127.76,176.32 L128.28,175.49 L128.81,174.68 L129.34,173.87 L129.87,173.08 L130.4,172.3 L130.94,171.52 L131.48,170.76 L132.02,170 L132.56,169.24 L133.11,168.5 L133.65,167.76 L134.2,167.03 L134.75,166.31 L135.31,165.6 L135.87,164.89 L136.43,164.19 L137,163.5 L137.6,162.78 L138.2,162.05 L138.8,161.33 L139.4,160.61 L140.01,159.9 L140.63,159.21 L141.25,158.53 L141.87,157.88 L142.51,157.25 L143.15,156.66 L143.8,156.1 L144.6,155.47 L145.42,154.88 L146.25,154.33 L147.09,153.82 L147.93,153.33 L148.78,152.87 L149.64,152.43 L150.5,152 L151.33,151.61 L152.18,151.25 L153.02,150.91 L153.88,150.59 L154.73,150.28 L155.59,149.99 L156.45,149.69 L157.3,149.4 L158.14,149.11 L158.97,148.83 L159.8,148.55 L160.64,148.28 L161.48,148.02 L162.31,147.77 L163.16,147.53 L164,147.3 L164.95,147.06 L165.9,146.82 L166.85,146.6 L167.8,146.4 L168.77,146.21 L169.77,146.04 L170.8,145.9 L171.66,145.81 L172.55,145.73 L173.47,145.68 L174.39,145.64 L175.33,145.61 L176.28,145.58 L177.22,145.56 L178.16,145.55 L179.09,145.53 L180,145.5 L180.95,145.47 L181.89,145.44 L182.83,145.42 L183.76,145.4 L184.69,145.38 L185.61,145.36 L186.54,145.34 L187.47,145.32 L188.4,145.3" fill="none" stroke="#42aee6" stroke-width="1.5"/>
<path d="M23.6,245.5 L24.57,245.65 L25.53,245.79 L26.5,245.94 L27.47,246.09 L28.45,246.24 L29.42,246.39 L30.39,246.53 L31.36,246.68 L32.33,246.83 L33.3,246.98 L34.27,247.12 L35.23,247.27 L36.19,247.42 L37.15,247.56 L38.1,247.71 L39.05,247.86 L40,248 L40.95,248.15 L41.88,248.3 L42.8,248.46 L43.71,248.63 L44.61,248.79 L45.5,248.95 L46.4,249.11 L47.3,249.27 L48.2,249.43 L49.12,249.58 L50.05,249.72 L50.99,249.86 L51.95,249.99 L52.94,250.1 L53.96,250.21 L55,250.3 L55.85,250.36 L56.71,250.43 L57.6,250.48 L58.5,250.53 L59.42,250.58 L60.35,250.62 L61.3,250.66 L62.25,250.69 L63.22,250.72 L64.2,250.75 L65.18,250.77 L66.17,250.78 L67.17,250.79 L68.17,250.8 L69.17,250.8 L70.17,250.79 L71.18,250.79 L72.18,250.77 L73.18,250.76 L74.18,250.73 L75.17,250.71 L76.15,250.67 L77.13,250.64 L78.1,250.6 L79.05,250.55 L80,250.5 L80.99,250.44 L81.98,250.38 L82.98,250.32 L83.99,250.25 L85,250.18 L86.02,250.1 L87.03,250.02 L88.05,249.93 L89.07,249.84 L90.08,249.74 L91.08,249.64 L92.08,249.53 L93.08,249.42 L94.06,249.3 L95.03,249.17 L95.99,249.04 L96.93,248.9 L97.86,248.75 L98.77,248.59 L99.66,248.43 L100.53,248.26 L101.38,248.08 L102.2,247.9 L103,247.7 L104.04,247.43 L105.05,247.15 L106.03,246.86 L106.97,246.56 L107.89,246.25 L108.78,245.93 L109.65,245.58 L110.51,245.23 L111.34,244.85 L112.17,244.45 L112.98,244.03 L113.79,243.58 L114.6,243.1 L115.4,242.6 L116.18,242.07 L116.95,241.52 L117.71,240.95 L118.45,240.36 L119.19,239.75 L119.91,239.11 L120.61,238.46 L121.3,237.8 L121.97,237.12 L122.63,236.42 L123.27,235.72 L123.9,235 L124.52,234.25 L125.12,233.49 L125.7,232.71 L126.25,231.92 L126.79,231.1 L127.32,230.28 L127.84,229.43 L128.34,228.57 L128.84,227.7 L129.33,226.8 L129.82,225.89 L130.31,224.95 L130.8,224 L131.2,223.21 L131.59,222.39 L131.97,221.55 L132.36,220.69 L132.73,219.82 L133.1,218.93 L133.47,218.03 L133.84,217.12 L134.2,216.2 L134.55,215.28 L134.91,214.35 L135.26,213.41 L135.61,212.48 L135.96,211.55 L136.31,210.62 L136.66,209.7 L137.01,208.79 L137.35,207.89 L137.7,207 L138.05,206.1 L138.41,205.19 L138.76,204.28 L139.12,203.37 L139.47,202.46 L139.82,201.55 L140.17,200.64 L140.52,199.74 L140.87,198.83 L141.21,197.94 L141.55,197.04 L141.88,196.15 L142.22,195.27 L142.54,194.4 L142.87,193.53 L143.18,192.68 L143.49,191.83 L143.8,191 L144.15,190.02 L144.5,189.05 L144.83,188.09 L145.16,187.13 L145.48,186.19 L145.79,185.26 L146.11,184.34 L146.42,183.43 L146.73,182.52 L147.04,181.63 L147.35,180.74 L147.67,179.87 L148,179 L148.35,178.09 L148.69,177.2 L149.04,176.31 L149.38,175.44 L149.73,174.57 L150.08,173.72 L150.43,172.88 L150.79,172.04 L151.15,171.22 L151.52,170.4 L151.9,169.6 L152.33,168.7 L152.77,167.82 L153.22,166.95 L153.67,166.09 L154.13,165.24 L154.59,164.41 L155.06,163.59 L155.53,162.79 L156,162 L156.48,161.21 L156.95,160.43 L157.43,159.66 L157.91,158.92 L158.41,158.18 L158.91,157.47 L159.44,156.77 L160,156.1 L160.65,155.37 L161.33,154.67 L162.02,153.99 L162.74,153.33 L163.48,152.69 L164.23,152.08 L165,151.5 L165.79,150.94 L166.6,150.4 L167.43,149.88 L168.27,149.39 L169.12,148.93 L169.97,148.5 L170.8,148.1 L171.67,147.72 L172.53,147.38 L173.39,147.07 L174.25,146.79 L175.12,146.53 L176,146.3 L176.89,146.09 L177.79,145.9 L178.69,145.74 L179.61,145.61 L180.54,145.5 L181.5,145.4 L182.44,145.34 L183.41,145.3 L184.4,145.29 L185.4,145.29 L186.4,145.3 L187.41,145.31 L188.4,145.3" fill="none" stroke="#f23f6b" stroke-width="1.5"/>
<text x="54.2" y="177.8" font-size="9.5" fill="#2b3440" stroke="#2b3440" stroke-width="0.22" text-anchor="middle" font-weight="normal" font-style="normal" >Pd/C</text>
<text x="44" y="221.2" font-size="9.5" fill="#3aa2e0" stroke="#3aa2e0" stroke-width="0.22" text-anchor="start" font-weight="normal" font-style="normal" >Pd-N<tspan font-size="5.6" dy="2">2</tspan><tspan dy="-2">H</tspan><tspan font-size="5.6" dy="2">4</tspan></text>
<text x="58.2" y="245.3" font-size="9.5" fill="#f23f6b" stroke="#f23f6b" stroke-width="0.22" text-anchor="start" font-weight="normal" font-style="normal" >Pd-B</text>
<text x="36.8" y="158.2" font-size="10.5" fill="#111" stroke="#111" stroke-width="0.22" text-anchor="middle" font-weight="bold" font-style="normal" >c</text>
<rect x="219.2" y="146.7" width="162.8" height="112.7" fill="none" stroke="#3d4b5c" stroke-width="1.2"/>
<line x1="219.2" y1="259.4" x2="220.8" y2="259.4" stroke="#c8d0d8" stroke-width="0.6"/>
<text x="214" y="261.8" font-size="6.6" fill="#4a5560" stroke="#4a5560" stroke-width="0.22" text-anchor="end" font-weight="normal" font-style="normal" >0</text>
<line x1="219.2" y1="236.85" x2="220.8" y2="236.85" stroke="#c8d0d8" stroke-width="0.6"/>
<text x="214" y="239.25" font-size="6.6" fill="#4a5560" stroke="#4a5560" stroke-width="0.22" text-anchor="end" font-weight="normal" font-style="normal" >20</text>
<line x1="219.2" y1="214.3" x2="220.8" y2="214.3" stroke="#c8d0d8" stroke-width="0.6"/>
<text x="214" y="216.7" font-size="6.6" fill="#4a5560" stroke="#4a5560" stroke-width="0.22" text-anchor="end" font-weight="normal" font-style="normal" >40</text>
<line x1="219.2" y1="191.75" x2="220.8" y2="191.75" stroke="#c8d0d8" stroke-width="0.6"/>
<text x="214" y="194.15" font-size="6.6" fill="#4a5560" stroke="#4a5560" stroke-width="0.22" text-anchor="end" font-weight="normal" font-style="normal" >60</text>
<line x1="219.2" y1="169.2" x2="220.8" y2="169.2" stroke="#c8d0d8" stroke-width="0.6"/>
<text x="214" y="171.6" font-size="6.6" fill="#4a5560" stroke="#4a5560" stroke-width="0.22" text-anchor="end" font-weight="normal" font-style="normal" >80</text>
<line x1="219.2" y1="146.65" x2="220.8" y2="146.65" stroke="#c8d0d8" stroke-width="0.6"/>
<text x="214" y="149.05" font-size="6.6" fill="#4a5560" stroke="#4a5560" stroke-width="0.22" text-anchor="end" font-weight="normal" font-style="normal" >100</text>
<text x="219.2" y="270.2" font-size="6.4" fill="#4a5560" stroke="#4a5560" stroke-width="0.22" text-anchor="middle" font-weight="normal" font-style="normal" >0</text>
<text x="246.33" y="270.2" font-size="6.4" fill="#4a5560" stroke="#4a5560" stroke-width="0.22" text-anchor="middle" font-weight="normal" font-style="normal" >5000</text>
<text x="273.47" y="270.2" font-size="6.4" fill="#4a5560" stroke="#4a5560" stroke-width="0.22" text-anchor="middle" font-weight="normal" font-style="normal" >10000</text>
<text x="300.61" y="270.2" font-size="6.4" fill="#4a5560" stroke="#4a5560" stroke-width="0.22" text-anchor="middle" font-weight="normal" font-style="normal" >15000</text>
<text x="327.74" y="270.2" font-size="6.4" fill="#4a5560" stroke="#4a5560" stroke-width="0.22" text-anchor="middle" font-weight="normal" font-style="normal" >20000</text>
<text x="354.88" y="270.2" font-size="6.4" fill="#4a5560" stroke="#4a5560" stroke-width="0.22" text-anchor="middle" font-weight="normal" font-style="normal" >25000</text>
<text x="382.01" y="270.2" font-size="6.4" fill="#4a5560" stroke="#4a5560" stroke-width="0.22" text-anchor="middle" font-weight="normal" font-style="normal" >30000</text>
<text x="309" y="278.7" font-size="6.4" fill="#222" stroke="#222" stroke-width="0.22" text-anchor="middle" font-weight="bold" font-style="italic" >Time / s</text>
<text x="0" y="0" font-size="7" fill="#222" stroke="#222" stroke-width="0.22" text-anchor="middle" font-weight="bold" font-style="italic" transform="translate(202.2,209.6) rotate(-90)">Percentage / %</text>
<path d="M219.5,151.54 L220.3,152.06 L221.09,152.84 L221.87,153.3 L222.65,153.86 L223.44,154.67 L224.22,155.59 L225,156.13 L225.79,156.71 L226.58,156.98 L227.38,157.76 L228.2,158.19 L229.02,158.7 L229.85,159.22 L230.7,159.83 L231.48,160.75 L232.27,161.17 L233.06,161.65 L233.86,162.13 L234.66,162.24 L235.48,162.78 L236.3,163.43 L237.12,163.95 L237.95,164.47 L238.79,164.92 L239.64,164.87 L240.5,165.59 L241.36,166.02 L242.23,166.3 L243.11,166.47 L244,166.98 L244.87,167.07 L245.74,167.87 L246.6,168.1 L247.46,168.16 L248.32,168.25 L249.19,168.83 L250.07,168.84 L250.95,169.23 L251.86,169.4 L252.78,169.38 L253.72,169.51 L254.69,169.8 L255.68,169.88 L256.71,169.9 L257.77,170.18 L258.86,170.68 L260,170.43 L260.76,170.57 L261.55,171.05 L262.35,170.99 L263.18,171.28 L264.02,171.38 L264.88,171.45 L265.76,171.99 L266.65,171.65 L267.56,171.92 L268.48,171.94 L269.42,172.34 L270.37,172.27 L271.33,172.46 L272.3,172.84 L273.29,172.73 L274.28,173.02 L275.28,173.37 L276.29,173.03 L277.31,173.14 L278.34,173.39 L279.37,173.85 L280.4,173.89 L281.44,173.81 L282.49,174 L283.53,174.04 L284.58,174.34 L285.63,174.22 L286.68,174.74 L287.73,174.99 L288.78,175.15 L289.82,175.14 L290.87,175.4 L291.91,174.95 L292.94,175.23 L293.97,175.75 L295,175.75 L296.01,175.64 L297.02,176.07 L298.02,175.98 L299.02,176.19 L300,175.98 L300.97,176.01 L301.95,176.25 L302.92,176.15 L303.89,176.38 L304.87,176.81 L305.84,176.5 L306.81,176.38 L307.78,176.48 L308.75,176.62 L309.72,177.05 L310.7,176.86 L311.67,176.88 L312.64,176.82 L313.61,177.41 L314.58,177.13 L315.55,177.05 L316.53,177.02 L317.5,177.06 L318.47,177.18 L319.44,177.54 L320.42,177.27 L321.39,177.25 L322.36,177.57 L323.34,177.47 L324.31,177.96 L325.29,177.48 L326.26,177.77 L327.24,177.97 L328.22,177.8 L329.2,178.19 L330.17,177.93 L331.15,177.84 L332.13,177.99 L333.11,177.82 L334.09,178.1 L335.08,178.05 L336.06,178.49 L337.04,178.51 L338.03,178.37 L339.01,178.16 L340,178.35 L340.97,178.41 L341.93,178.45 L342.9,178.53 L343.87,178.98 L344.84,178.61 L345.81,178.62 L346.78,179.21 L347.75,179.06 L348.72,179.39 L349.7,179.1 L350.67,179.47 L351.65,179.39 L352.62,179.54 L353.6,179.58 L354.58,179.5 L355.55,179.33 L356.53,179.47 L357.51,179.94 L358.49,180.03 L359.47,180.11 L360.45,179.83 L361.43,180.1 L362.41,180.25 L363.39,180.23 L364.37,180.41 L365.35,180.3 L366.33,180.45 L367.31,180.54 L368.29,180.36 L369.27,180.83 L370.25,180.92 L371.23,180.46 L372.21,181.07 L373.19,181.14 L374.17,181.04 L375.15,180.73 L376.13,181.32 L377.11,180.92 L378.09,181.5 L379.07,181.39 L380.05,181.1 L381.02,181.23 L382,181.5" fill="none" stroke="#f23f6b" stroke-width="1.5"/>
<path d="M219.5,150.3 L219.54,151.27 L219.58,152.24 L219.62,153.21 L219.66,154.18 L219.7,155.15 L219.74,156.12 L219.78,157.09 L219.82,158.06 L219.86,159.03 L219.9,160 L219.93,160.98 L219.95,161.97 L219.96,162.97 L219.97,163.96 L219.99,164.96 L220.01,165.94 L220.05,166.93 L220.1,167.9 L220.19,168.86 L220.3,169.8 L220.44,170.77 L220.6,171.73 L220.77,172.69 L220.96,173.64 L221.18,174.57 L221.42,175.49 L221.68,176.39 L221.98,177.26 L222.3,178.1 L222.66,178.93 L223.03,179.73 L223.44,180.49 L223.87,181.24 L224.33,181.98 L224.84,182.71 L225.39,183.45 L226,184.2 L226.58,184.87 L227.22,185.56 L227.92,186.27 L228.66,186.99 L229.43,187.7 L230.22,188.41 L231.02,189.1 L231.82,189.77 L232.61,190.4 L233.37,190.99 L234.11,191.52 L234.8,192 L235.68,192.55 L236.49,192.99 L237.27,193.36 L238.08,193.71 L238.98,194.08 L240,194.5 L240.72,194.8 L241.48,195.12 L242.29,195.45 L243.13,195.8 L244.02,196.15 L244.93,196.52 L245.88,196.89 L246.85,197.26 L247.84,197.63 L248.84,197.99 L249.86,198.35 L250.89,198.71 L251.92,199.05 L252.95,199.39 L253.98,199.7 L255,200 L255.88,200.25 L256.78,200.48 L257.69,200.71 L258.61,200.94 L259.54,201.16 L260.48,201.37 L261.42,201.58 L262.38,201.78 L263.34,201.98 L264.31,202.17 L265.28,202.36 L266.25,202.54 L267.23,202.73 L268.21,202.9 L269.18,203.08 L270.16,203.25 L271.14,203.43 L272.11,203.6 L273.08,203.77 L274.04,203.93 L275,204.1 L275.95,204.26 L276.89,204.42 L277.83,204.58 L278.77,204.73 L279.71,204.89 L280.64,205.03 L281.57,205.18 L282.51,205.32 L283.44,205.46 L284.38,205.59 L285.32,205.73 L286.26,205.86 L287.21,205.99 L288.16,206.12 L289.12,206.25 L290.08,206.38 L291.05,206.5 L292.02,206.63 L293.01,206.75 L294,206.88 L295,207 L295.91,207.11 L296.82,207.22 L297.74,207.33 L298.67,207.44 L299.59,207.54 L300.53,207.65 L301.46,207.75 L302.41,207.85 L303.35,207.95 L304.3,208.06 L305.26,208.15 L306.21,208.25 L307.18,208.35 L308.14,208.45 L309.11,208.54 L310.09,208.63 L311.06,208.73 L312.04,208.82 L313.03,208.91 L314.01,208.99 L315,209.08 L316,209.17 L316.99,209.25 L317.99,209.34 L319,209.42 L320,209.5 L320.93,209.57 L321.86,209.64 L322.79,209.72 L323.73,209.78 L324.67,209.85 L325.62,209.92 L326.57,209.98 L327.52,210.05 L328.48,210.11 L329.44,210.18 L330.4,210.24 L331.37,210.3 L332.33,210.36 L333.3,210.41 L334.28,210.47 L335.25,210.53 L336.23,210.58 L337.21,210.64 L338.19,210.69 L339.17,210.75 L340.15,210.8 L341.14,210.85 L342.12,210.9 L343.1,210.96 L344.09,211.01 L345.08,211.06 L346.06,211.11 L347.05,211.15 L348.03,211.2 L349.02,211.25 L350,211.3 L350.95,211.35 L351.91,211.39 L352.87,211.43 L353.83,211.48 L354.79,211.52 L355.75,211.56 L356.72,211.6 L357.68,211.64 L358.65,211.68 L359.62,211.71 L360.59,211.75 L361.56,211.79 L362.53,211.82 L363.5,211.86 L364.47,211.89 L365.45,211.92 L366.42,211.96 L367.4,211.99 L368.37,212.03 L369.34,212.06 L370.32,212.09 L371.29,212.12 L372.27,212.16 L373.24,212.19 L374.22,212.22 L375.19,212.26 L376.17,212.29 L377.14,212.32 L378.11,212.36 L379.09,212.39 L380.06,212.43 L381.03,212.46 L382,212.5" fill="none" stroke="#111" stroke-width="1.9"/>
<path d="M219.5,150.06 L219.55,151.55 L219.6,152.61 L219.65,154.03 L219.7,155.26 L219.75,155.97 L219.8,157.13 L219.85,159.09 L219.9,159.78 L219.94,160.99 L219.96,162.91 L219.97,163.69 L219.99,165.26 L220.02,166.17 L220.07,167.54 L220.16,168.3 L220.3,169.92 L220.49,171.38 L220.72,172.32 L220.97,173.75 L221.26,174.9 L221.58,175.53 L221.93,177.27 L222.3,178.18 L222.72,179.05 L223.14,179.86 L223.62,181.61 L224.22,182.23 L225,183.4 L225.78,184.29 L226.69,184.88 L227.72,185.8 L228.83,186.04 L230,187.1 L231.21,187.44 L232.43,188.5 L233.64,189.02 L234.8,188.84 L236.01,189.36 L237.21,189.84 L238.41,190.87 L239.63,190.7 L240.89,191.16 L242.19,191.16 L243.55,191.66 L245,191.9 L246.06,192.13 L247.18,192.62 L248.33,192.9 L249.52,193.48 L250.75,193.58 L252,194.1 L253.27,194.34 L254.57,194.76 L255.88,194.77 L257.19,194.61 L258.51,195.53 L259.83,195.9 L261.14,196.12 L262.45,196.08 L263.73,196.46 L265,196.24 L266.25,197.02 L267.49,197 L268.74,196.95 L269.99,196.95 L271.24,197.85 L272.49,198.16 L273.74,197.52 L274.99,198.34 L276.24,198.15 L277.49,198.07 L278.74,198.36 L279.99,198.93 L281.24,199.16 L282.5,198.55 L283.75,199.18 L285,198.79 L286.24,199.51 L287.46,199.25 L288.67,199.83 L289.86,200 L291.06,199.64 L292.25,200.14 L293.45,199.58 L294.65,199.42 L295.86,199.94 L297.09,199.47 L298.34,199.67 L299.61,199.9 L300.9,200.13 L302.23,199.77 L303.6,199.73 L305,200.53 L306.13,200.08 L307.28,200.72 L308.44,200.71 L309.63,200.3 L310.84,200.43 L312.06,200.54 L313.3,200.71 L314.56,200.72 L315.83,200.74 L317.11,200.86 L318.41,201.2 L319.71,200.87 L321.03,200.86 L322.36,201.17 L323.69,200.79 L325.03,200.9 L326.38,201.57 L327.74,201.21 L329.09,201.29 L330.46,200.85 L331.82,201.27 L333.19,201.46 L334.55,201 L335.92,201.58 L337.28,201.64 L338.64,201.17 L340,201.71 L341.26,201.6 L342.52,201.83 L343.79,201.56 L345.07,201.91 L346.35,201.96 L347.64,201.34 L348.93,201.4 L350.23,201.98 L351.53,202.26 L352.84,201.64 L354.15,201.84 L355.47,201.98 L356.79,201.75 L358.11,201.81 L359.43,201.78 L360.76,201.84 L362.09,202.06 L363.42,201.81 L364.75,201.89 L366.08,202.26 L367.41,201.61 L368.75,202.11 L370.08,202.27 L371.41,201.9 L372.74,201.84 L374.07,202.37 L375.4,201.88 L376.72,201.85 L378.05,202.09 L379.37,202.34 L380.69,201.82 L382,202.2" fill="none" stroke="#3aa6e6" stroke-width="1.5"/>
<text x="297.7" y="172.7" font-size="9.5" fill="#f23f6b" stroke="#f23f6b" stroke-width="0.22" text-anchor="start" font-weight="normal" font-style="normal" >Pd-B</text>
<text x="297.7" y="196" font-size="9.5" fill="#3aa2e0" stroke="#3aa2e0" stroke-width="0.22" text-anchor="start" font-weight="normal" font-style="normal" >Pd-N<tspan font-size="5.6" dy="2">2</tspan><tspan dy="-2">H</tspan><tspan font-size="5.6" dy="2">4</tspan></text>
<text x="298.3" y="222.6" font-size="9.5" fill="#2b3440" stroke="#2b3440" stroke-width="0.22" text-anchor="start" font-weight="normal" font-style="normal" >Pd/C</text>
<text x="199.4" y="157.4" font-size="10.5" fill="#111" stroke="#111" stroke-width="0.22" text-anchor="middle" font-weight="bold" font-style="normal" >d</text>
<text x="36.8" y="287.4" font-size="10.5" fill="#111" stroke="#111" stroke-width="0.22" text-anchor="middle" font-weight="bold" font-style="normal" >e</text>
<rect x="27.5" y="322" width="169.8" height="69.6" fill="#fde7eb" stroke="#f59ab0" stroke-width="1.2"/>
<text x="188.8" y="331.2" font-size="5" fill="#f07890" stroke="#f07890" stroke-width="0.22" text-anchor="middle" font-weight="normal" font-style="normal" >DMF</text>
<path d="M49.1,337.3 L44,333 L41,329 L37,327.5" fill="none" stroke="#f6a4bf" stroke-width="1.4" stroke-linejoin="round"/>
<path d="M49.1,337.3 L43,335 L38,334 L33.4,333" fill="none" stroke="#f6a4bf" stroke-width="1.4" stroke-linejoin="round"/>
<path d="M49.1,337.3 L43,338.5 L38,340 L34.5,341.5" fill="none" stroke="#f6a4bf" stroke-width="1.4" stroke-linejoin="round"/>
<path d="M49.1,337.3 L45,340.5 L41,344 L37,345" fill="none" stroke="#f6a4bf" stroke-width="1.4" stroke-linejoin="round"/>
<path d="M49.1,337.3 L53,333.5 L57,331 L63,329" fill="none" stroke="#f6a4bf" stroke-width="1.4" stroke-linejoin="round"/>
<path d="M49.1,337.3 L55,335 L59,333 L64,333.5" fill="none" stroke="#f6a4bf" stroke-width="1.4" stroke-linejoin="round"/>
<path d="M49.1,337.3 L54,338.5 L59,340 L65,341.5" fill="none" stroke="#f6a4bf" stroke-width="1.4" stroke-linejoin="round"/>
<path d="M49.1,337.3 L53,341 L56,344.5 L61,346.8" fill="none" stroke="#f6a4bf" stroke-width="1.4" stroke-linejoin="round"/>
<circle cx="49.1" cy="337.3" r="1.5" fill="#a8e878"/>
<text x="75.4" y="338.4" font-size="5.2" fill="#78b4d8" stroke="#78b4d8" stroke-width="0.22" text-anchor="middle" font-weight="normal" font-style="normal" >BH<tspan font-size="3.2" dy="0.8">4</tspan><tspan font-size="3.2" dy="-2.5">-</tspan></text>
<path d="M72.3,342 C68,355 55,362 45,364.5" fill="none" stroke="#f0457a" stroke-width="1.3"/>
<path d="M41.5,365.5 L44.19,362.25 L45.62,366.41 Z" fill="#f0457a"/>
<path d="M77,341 C84,347 87,356 83.5,362.5" fill="none" stroke="#f0457a" stroke-width="1.3"/>
<path d="M83,366 L81.36,362.11 L85.71,362.77 Z" fill="#f0457a"/>
<path d="M83.1,336.5 C92,332 103,332 108.5,336.5" fill="none" stroke="#f0457a" stroke-width="1.3"/>
<path d="M111.5,339.5 L107.4,338.51 L110.51,335.4 Z" fill="#f0457a"/>
<path d="M47.3,375.5 L60,375.5" fill="none" stroke="#f0457a" stroke-width="1.7"/>
<path d="M64,375.5 L59.8,378.1 L59.8,372.9 Z" fill="#f0457a"/>
<path d="M86.2,373.4 L99.5,365.5" fill="none" stroke="#f0457a" stroke-width="1.7"/>
<path d="M103.1,363.4 L100.79,367.77 L98.16,363.28 Z" fill="#f0457a"/>
<path d="M138.5,355.6 L154,355.6" fill="none" stroke="#f0457a" stroke-width="2"/>
<path d="M158.5,355.6 L153.9,358.6 L153.9,352.6 Z" fill="#f0457a"/>
<path d="M41,362 L40.51,359.45 L38.49,357.55 L38,355" fill="none" stroke="#f2d67e" stroke-width="1.7" stroke-linecap="round"/>
<path d="M41,362 L42.94,360.33 L43.56,357.67 L45.5,356" fill="none" stroke="#f2d67e" stroke-width="1.7" stroke-linecap="round"/>
<path d="M41.5,368 L39.26,364.32 L35.74,361.68 L33.5,358" fill="none" stroke="#f2d67e" stroke-width="1.7" stroke-linecap="round"/>
<path d="M41.5,368 L38.55,366.16 L34.95,365.84 L32,364" fill="none" stroke="#f2d67e" stroke-width="1.7" stroke-linecap="round"/>
<path d="M41.5,368 L38.19,368.3 L35.31,370.2 L32,370.5" fill="none" stroke="#f2d67e" stroke-width="1.7" stroke-linecap="round"/>
<path d="M42,369 L38.99,370.74 L37.01,373.76 L34,375.5" fill="none" stroke="#f2d67e" stroke-width="1.7" stroke-linecap="round"/>
<path d="M43,377 L39.56,377.13 L36.44,378.87 L33,379" fill="none" stroke="#f2d67e" stroke-width="1.7" stroke-linecap="round"/>
<path d="M43,377 L39.97,378.92 L38.03,382.08 L35,384" fill="none" stroke="#f2d67e" stroke-width="1.7" stroke-linecap="round"/>
<path d="M43.5,377 L41.82,379.8 L41.68,383.2 L40,386" fill="none" stroke="#f2d67e" stroke-width="1.7" stroke-linecap="round"/>
<path d="M43.5,377 L43.63,379.96 L45.37,382.54 L45.5,385.5" fill="none" stroke="#f2d67e" stroke-width="1.7" stroke-linecap="round"/>
<path d="M44,376.5 L44.86,378.95 L47.14,380.55 L48,383" fill="none" stroke="#f2d67e" stroke-width="1.7" stroke-linecap="round"/>
<circle cx="75.9" cy="376.9" r="9.6" fill="#1f9a9e"/>
<circle cx="72.91" cy="369.06" r="0.55" fill="#4cc4c0"/>
<circle cx="74.3" cy="368.87" r="0.55" fill="#4cc4c0"/>
<circle cx="78.82" cy="369.1" r="0.55" fill="#4cc4c0"/>
<circle cx="74.27" cy="370.63" r="0.55" fill="#4cc4c0"/>
<circle cx="76.17" cy="370.74" r="0.55" fill="#4cc4c0"/>
<circle cx="77.22" cy="370.52" r="0.55" fill="#4cc4c0"/>
<circle cx="69.45" cy="371.82" r="0.55" fill="#4cc4c0"/>
<circle cx="71.06" cy="372.1" r="0.55" fill="#4cc4c0"/>
<circle cx="72.54" cy="371.93" r="0.55" fill="#4cc4c0"/>
<circle cx="75.61" cy="372.3" r="0.55" fill="#4cc4c0"/>
<circle cx="81" cy="372.32" r="0.55" fill="#4cc4c0"/>
<circle cx="82.2" cy="372.23" r="0.55" fill="#4cc4c0"/>
<circle cx="75.95" cy="373.93" r="0.55" fill="#4cc4c0"/>
<circle cx="82.15" cy="373.88" r="0.55" fill="#4cc4c0"/>
<circle cx="67.93" cy="375.42" r="0.55" fill="#4cc4c0"/>
<circle cx="82.03" cy="375.42" r="0.55" fill="#4cc4c0"/>
<circle cx="71.1" cy="377.19" r="0.55" fill="#4cc4c0"/>
<circle cx="77.51" cy="377.17" r="0.55" fill="#4cc4c0"/>
<circle cx="82.33" cy="377.17" r="0.55" fill="#4cc4c0"/>
<circle cx="84.07" cy="377.09" r="0.55" fill="#4cc4c0"/>
<circle cx="77.72" cy="378.54" r="0.55" fill="#4cc4c0"/>
<circle cx="79.1" cy="378.49" r="0.55" fill="#4cc4c0"/>
<circle cx="82.32" cy="378.57" r="0.55" fill="#4cc4c0"/>
<circle cx="69.34" cy="379.91" r="0.55" fill="#4cc4c0"/>
<circle cx="79.31" cy="380.2" r="0.55" fill="#4cc4c0"/>
<circle cx="80.41" cy="379.81" r="0.55" fill="#4cc4c0"/>
<circle cx="83.67" cy="380.17" r="0.55" fill="#4cc4c0"/>
<circle cx="69.24" cy="381.5" r="0.55" fill="#4cc4c0"/>
<circle cx="72.56" cy="381.83" r="0.55" fill="#4cc4c0"/>
<circle cx="75.88" cy="381.41" r="0.55" fill="#4cc4c0"/>
<circle cx="80.47" cy="381.94" r="0.55" fill="#4cc4c0"/>
<circle cx="71.16" cy="383.49" r="0.55" fill="#4cc4c0"/>
<circle cx="72.41" cy="383.09" r="0.55" fill="#4cc4c0"/>
<circle cx="76.02" cy="383.41" r="0.55" fill="#4cc4c0"/>
<circle cx="79.39" cy="383.48" r="0.55" fill="#4cc4c0"/>
<circle cx="72.79" cy="384.84" r="0.55" fill="#4cc4c0"/>
<circle cx="75.98" cy="384.64" r="0.55" fill="#4cc4c0"/>
<circle cx="77.78" cy="385.13" r="0.55" fill="#4cc4c0"/>
<circle cx="79.32" cy="384.79" r="0.55" fill="#4cc4c0"/>
<circle cx="120.8" cy="355.5" r="16" fill="#2896a8"/>
<path d="M117,357 C116.5,350 117,345 118.5,339.7 A16,16 0 0 1 136.8,356.3 Z" fill="#30a8ae"/>
<path d="M117,357 L136.8,356.3" stroke="#5fd0c0" stroke-width="0.7"/>
<circle cx="111.42" cy="346.37" r="0.5" fill="#2a7cb8"/>
<circle cx="133.03" cy="350.87" r="0.5" fill="#2a7cb8"/>
<circle cx="131" cy="357.38" r="0.5" fill="#2a7cb8"/>
<circle cx="112.24" cy="343.88" r="0.5" fill="#4cc0c4"/>
<circle cx="113.39" cy="356.96" r="0.5" fill="#4cc0c4"/>
<circle cx="119.24" cy="354.72" r="0.5" fill="#4cc0c4"/>
<circle cx="118.12" cy="369.8" r="0.5" fill="#2a7cb8"/>
<circle cx="128.1" cy="366.94" r="0.5" fill="#4cc0c4"/>
<circle cx="116.8" cy="351.86" r="0.5" fill="#4cc0c4"/>
<circle cx="125.61" cy="350.47" r="0.5" fill="#4cc0c4"/>
<circle cx="134.91" cy="353.94" r="0.5" fill="#4cc0c4"/>
<circle cx="131.64" cy="352.82" r="0.5" fill="#2a7cb8"/>
<circle cx="124.93" cy="369.65" r="0.5" fill="#2a7cb8"/>
<circle cx="134.85" cy="352.5" r="0.5" fill="#4cc0c4"/>
<circle cx="116.82" cy="360.24" r="0.5" fill="#4cc0c4"/>
<circle cx="128.46" cy="358.82" r="0.5" fill="#2a7cb8"/>
<circle cx="133.31" cy="355.77" r="0.5" fill="#4cc0c4"/>
<circle cx="115.74" cy="368.29" r="0.5" fill="#4cc0c4"/>
<circle cx="116.56" cy="365.16" r="0.5" fill="#2a7cb8"/>
<circle cx="134.86" cy="360.76" r="0.5" fill="#4cc0c4"/>
<circle cx="120.78" cy="341.53" r="0.5" fill="#4cc0c4"/>
<circle cx="122.96" cy="346.56" r="0.5" fill="#4cc0c4"/>
<circle cx="124.08" cy="355.69" r="0.5" fill="#4cc0c4"/>
<circle cx="127.27" cy="353.63" r="0.5" fill="#2a7cb8"/>
<circle cx="134.14" cy="349.19" r="0.5" fill="#4cc0c4"/>
<circle cx="114.06" cy="364.21" r="0.5" fill="#2a7cb8"/>
<circle cx="131.03" cy="363.76" r="0.5" fill="#2a7cb8"/>
<circle cx="122.65" cy="353.25" r="0.5" fill="#2a7cb8"/>
<circle cx="128.26" cy="360.31" r="0.5" fill="#2a7cb8"/>
<circle cx="128.51" cy="351.14" r="0.5" fill="#2a7cb8"/>
<circle cx="112.64" cy="353.12" r="0.5" fill="#4cc0c4"/>
<circle cx="122.67" cy="359.32" r="0.5" fill="#4cc0c4"/>
<circle cx="115.14" cy="341.42" r="0.5" fill="#4cc0c4"/>
<circle cx="135.2" cy="360.03" r="0.5" fill="#4cc0c4"/>
<circle cx="114.65" cy="359.63" r="0.5" fill="#4cc0c4"/>
<circle cx="125.53" cy="346.4" r="0.5" fill="#4cc0c4"/>
<circle cx="134.47" cy="360.49" r="0.5" fill="#4cc0c4"/>
<circle cx="106.89" cy="356.06" r="0.5" fill="#4cc0c4"/>
<circle cx="119.1" cy="340.78" r="0.5" fill="#2a7cb8"/>
<circle cx="121.97" cy="350.68" r="0.5" fill="#4cc0c4"/>
<circle cx="129.06" cy="366.76" r="0.5" fill="#4cc0c4"/>
<circle cx="106.26" cy="359.91" r="0.5" fill="#2a7cb8"/>
<circle cx="130.92" cy="353.96" r="0.5" fill="#4cc0c4"/>
<circle cx="119.45" cy="345.07" r="0.5" fill="#4cc0c4"/>
<circle cx="116.01" cy="358.81" r="0.5" fill="#4cc0c4"/>
<circle cx="135.65" cy="354.41" r="0.5" fill="#2a7cb8"/>
<circle cx="111.96" cy="355.54" r="0.5" fill="#4cc0c4"/>
<circle cx="118.92" cy="368.81" r="0.5" fill="#2a7cb8"/>
<circle cx="112.12" cy="365.81" r="0.5" fill="#2a7cb8"/>
<circle cx="116.57" cy="343.86" r="0.5" fill="#2a7cb8"/>
<circle cx="112.46" cy="365.15" r="0.5" fill="#4cc0c4"/>
<circle cx="107.52" cy="356.7" r="0.5" fill="#2a7cb8"/>
<circle cx="116.78" cy="369.72" r="0.5" fill="#2a7cb8"/>
<circle cx="119.37" cy="354.71" r="0.5" fill="#4cc0c4"/>
<circle cx="120.75" cy="367.96" r="0.5" fill="#4cc0c4"/>
<circle cx="125.78" cy="344.33" r="0.5" fill="#2a7cb8"/>
<circle cx="113.76" cy="365.46" r="0.5" fill="#2a7cb8"/>
<circle cx="125.04" cy="347.57" r="0.5" fill="#2a7cb8"/>
<circle cx="129.43" cy="346.3" r="0.5" fill="#2a7cb8"/>
<circle cx="131.34" cy="352.55" r="0.5" fill="#4cc0c4"/>
<circle cx="127.79" cy="367.52" r="0.5" fill="#2a7cb8"/>
<circle cx="108.29" cy="357.3" r="0.5" fill="#2a7cb8"/>
<circle cx="120.02" cy="349.25" r="0.5" fill="#2a7cb8"/>
<circle cx="109.97" cy="349.47" r="0.5" fill="#4cc0c4"/>
<circle cx="111.27" cy="346.12" r="0.5" fill="#2a7cb8"/>
<circle cx="120.33" cy="353.02" r="0.5" fill="#4cc0c4"/>
<circle cx="109.37" cy="359.94" r="0.5" fill="#4cc0c4"/>
<circle cx="116.07" cy="344.39" r="0.5" fill="#4cc0c4"/>
<circle cx="113.69" cy="356.78" r="0.5" fill="#4cc0c4"/>
<circle cx="126.52" cy="361.87" r="0.5" fill="#4cc0c4"/>
<circle cx="121.8" cy="358.19" r="0.5" fill="#4cc0c4"/>
<circle cx="112.12" cy="363.62" r="0.5" fill="#4cc0c4"/>
<circle cx="121.9" cy="369.9" r="0.5" fill="#4cc0c4"/>
<circle cx="114.15" cy="359.99" r="0.5" fill="#4cc0c4"/>
<circle cx="131.19" cy="364.67" r="0.5" fill="#4cc0c4"/>
<circle cx="132.4" cy="358.17" r="0.5" fill="#4cc0c4"/>
<circle cx="112.3" cy="353.02" r="0.5" fill="#4cc0c4"/>
<circle cx="134.08" cy="351.94" r="0.5" fill="#4cc0c4"/>
<circle cx="125.5" cy="344.26" r="0.5" fill="#4cc0c4"/>
<circle cx="128.16" cy="364.64" r="0.5" fill="#4cc0c4"/>
<circle cx="135.22" cy="351.53" r="0.5" fill="#2a7cb8"/>
<circle cx="112.27" cy="367.06" r="0.5" fill="#4cc0c4"/>
<circle cx="129.7" cy="362.67" r="0.5" fill="#2a7cb8"/>
<circle cx="128.45" cy="364.83" r="0.5" fill="#2a7cb8"/>
<circle cx="113.7" cy="362.52" r="0.5" fill="#4cc0c4"/>
<circle cx="116.94" cy="369.98" r="0.5" fill="#4cc0c4"/>
<circle cx="134.9" cy="351.99" r="0.5" fill="#4cc0c4"/>
<circle cx="119.87" cy="370.53" r="0.5" fill="#4cc0c4"/>
<circle cx="113.4" cy="359.85" r="0.5" fill="#2a7cb8"/>
<circle cx="112.68" cy="355.92" r="0.5" fill="#4cc0c4"/>
<circle cx="129.44" cy="363.81" r="0.5" fill="#4cc0c4"/>
<circle cx="117.2" cy="368.45" r="0.5" fill="#2a7cb8"/>
<circle cx="131.85" cy="356.42" r="0.5" fill="#4cc0c4"/>
<circle cx="133.14" cy="350.18" r="0.5" fill="#4cc0c4"/>
<circle cx="120.14" cy="361.44" r="0.5" fill="#2a7cb8"/>
<circle cx="117.62" cy="366.92" r="0.5" fill="#4cc0c4"/>
<circle cx="113.55" cy="346.17" r="0.5" fill="#2a7cb8"/>
<circle cx="130.57" cy="364.46" r="0.5" fill="#4cc0c4"/>
<circle cx="112.18" cy="353.66" r="0.5" fill="#4cc0c4"/>
<circle cx="110.62" cy="353.57" r="0.5" fill="#4cc0c4"/>
<circle cx="120.43" cy="343.82" r="0.5" fill="#4cc0c4"/>
<circle cx="120.64" cy="365.76" r="0.5" fill="#2a7cb8"/>
<circle cx="129.36" cy="348.23" r="0.5" fill="#4cc0c4"/>
<circle cx="122.56" cy="345.72" r="0.5" fill="#4cc0c4"/>
<circle cx="117.66" cy="343.83" r="0.5" fill="#4cc0c4"/>
<circle cx="128.82" cy="350.53" r="0.5" fill="#4cc0c4"/>
<circle cx="124.82" cy="350.1" r="0.5" fill="#4cc0c4"/>
<circle cx="122.68" cy="352.08" r="0.5" fill="#2a7cb8"/>
<circle cx="117.39" cy="346.1" r="0.5" fill="#4cc0c4"/>
<circle cx="123.58" cy="341.26" r="0.5" fill="#4cc0c4"/>
<circle cx="109.64" cy="357.02" r="0.5" fill="#4cc0c4"/>
<circle cx="117.91" cy="360.71" r="0.5" fill="#4cc0c4"/>
<circle cx="122.31" cy="351.82" r="0.5" fill="#4cc0c4"/>
<circle cx="126.53" cy="343.25" r="0.5" fill="#2a7cb8"/>
<circle cx="133.55" cy="357.57" r="0.5" fill="#2a7cb8"/>
<circle cx="133.53" cy="355.37" r="0.5" fill="#4cc0c4"/>
<circle cx="124.69" cy="349.54" r="0.5" fill="#2a7cb8"/>
<circle cx="133.06" cy="351.71" r="0.5" fill="#4cc0c4"/>
<circle cx="116.96" cy="369.55" r="0.5" fill="#4cc0c4"/>
<circle cx="113.29" cy="349.24" r="0.5" fill="#4cc0c4"/>
<circle cx="118.52" cy="353.29" r="0.5" fill="#4cc0c4"/>
<circle cx="117.84" cy="358.31" r="0.5" fill="#4cc0c4"/>
<circle cx="109.14" cy="349.54" r="0.5" fill="#2a7cb8"/>
<circle cx="127.44" cy="362.96" r="0.5" fill="#4cc0c4"/>
<circle cx="112.2" cy="349.24" r="0.5" fill="#2a7cb8"/>
<circle cx="118.28" cy="358.05" r="0.5" fill="#2a7cb8"/>
<circle cx="127.83" cy="365.32" r="0.5" fill="#4cc0c4"/>
<circle cx="130.38" cy="349.46" r="0.5" fill="#2a7cb8"/>
<circle cx="119.86" cy="366.75" r="0.5" fill="#4cc0c4"/>
<circle cx="120.84" cy="344.57" r="0.5" fill="#4cc0c4"/>
<circle cx="121.71" cy="364.72" r="0.5" fill="#2a7cb8"/>
<circle cx="126.32" cy="367.09" r="0.5" fill="#2a7cb8"/>
<circle cx="131.48" cy="361.84" r="0.5" fill="#4cc0c4"/>
<circle cx="129.09" cy="363.77" r="0.5" fill="#4cc0c4"/>
<circle cx="128.34" cy="348.14" r="0.5" fill="#4cc0c4"/>
<circle cx="121.55" cy="353" r="0.5" fill="#2a7cb8"/>
<circle cx="126.37" cy="357.45" r="0.5" fill="#2a7cb8"/>
<circle cx="117.79" cy="348.98" r="0.5" fill="#4cc0c4"/>
<circle cx="133.01" cy="353.38" r="0.5" fill="#2a7cb8"/>
<circle cx="128.47" cy="364.75" r="0.5" fill="#4cc0c4"/>
<circle cx="121.62" cy="364.24" r="0.5" fill="#2a7cb8"/>
<circle cx="115.31" cy="363.18" r="0.5" fill="#4cc0c4"/>
<circle cx="126.77" cy="344.82" r="0.5" fill="#2a7cb8"/>
<circle cx="107.98" cy="361.2" r="0.5" fill="#4cc0c4"/>
<circle cx="111.19" cy="349.17" r="0.5" fill="#2a7cb8"/>
<circle cx="117.05" cy="358.39" r="0.5" fill="#4cc0c4"/>
<circle cx="121.69" cy="358.39" r="0.5" fill="#2a7cb8"/>
<circle cx="107.64" cy="357.08" r="0.5" fill="#4cc0c4"/>
<circle cx="106.71" cy="358.17" r="0.5" fill="#2a7cb8"/>
<circle cx="111.45" cy="360" r="0.5" fill="#4cc0c4"/>
<circle cx="124.22" cy="360.51" r="0.5" fill="#4cc0c4"/>
<circle cx="110.06" cy="364.89" r="0.5" fill="#4cc0c4"/>
<circle cx="120.6" cy="363.5" r="0.5" fill="#4cc0c4"/>
<circle cx="119.1" cy="362.67" r="0.5" fill="#4cc0c4"/>
<circle cx="135.12" cy="358.43" r="0.5" fill="#4cc0c4"/>
<circle cx="132.46" cy="350.71" r="0.5" fill="#2a7cb8"/>
<circle cx="106.25" cy="358.11" r="0.5" fill="#4cc0c4"/>
<circle cx="116.78" cy="348.35" r="0.5" fill="#2a7cb8"/>
<circle cx="120" cy="349.41" r="0.5" fill="#4cc0c4"/>
<circle cx="128.01" cy="356.64" r="0.5" fill="#4cc0c4"/>
<circle cx="126" cy="350" r="0.6" fill="#d8fff0"/>
<circle cx="130" cy="349" r="0.6" fill="#d8fff0"/>
<circle cx="124" cy="346" r="0.6" fill="#d8fff0"/>
<circle cx="132" cy="353" r="0.6" fill="#d8fff0"/>
<circle cx="176.4" cy="356.3" r="15.8" fill="#2898a8"/>
<path d="M160.6,357.7 A15.8,15.8 0 0 1 192.2,357.7 Z" fill="#3cb4b2"/>
<circle cx="164.37" cy="364.92" r="0.5" fill="#5ccaca"/>
<circle cx="170.89" cy="362.61" r="0.5" fill="#5ccaca"/>
<circle cx="168.58" cy="357.89" r="0.5" fill="#5ccaca"/>
<circle cx="174.99" cy="343.67" r="0.5" fill="#5ccaca"/>
<circle cx="180.21" cy="362.59" r="0.5" fill="#5ccaca"/>
<circle cx="169.57" cy="343.46" r="0.5" fill="#5ccaca"/>
<circle cx="170.41" cy="348.49" r="0.5" fill="#5ccaca"/>
<circle cx="177.57" cy="356.12" r="0.5" fill="#5ccaca"/>
<circle cx="188.68" cy="361.24" r="0.5" fill="#5ccaca"/>
<circle cx="173.71" cy="358" r="0.5" fill="#5ccaca"/>
<circle cx="162.16" cy="351.83" r="0.5" fill="#5ccaca"/>
<circle cx="167.59" cy="355.25" r="0.5" fill="#5ccaca"/>
<circle cx="179.73" cy="358.53" r="0.5" fill="#5ccaca"/>
<circle cx="184.86" cy="350.06" r="0.5" fill="#5ccaca"/>
<circle cx="179.6" cy="354.93" r="0.5" fill="#5ccaca"/>
<circle cx="176.54" cy="359.67" r="0.5" fill="#5ccaca"/>
<circle cx="173.46" cy="358.51" r="0.5" fill="#5ccaca"/>
<circle cx="176.07" cy="365.87" r="0.5" fill="#5ccaca"/>
<circle cx="175.23" cy="359.49" r="0.5" fill="#5ccaca"/>
<circle cx="190.77" cy="359.76" r="0.5" fill="#5ccaca"/>
<circle cx="180.99" cy="365.96" r="0.5" fill="#5ccaca"/>
<circle cx="167.46" cy="362.59" r="0.5" fill="#5ccaca"/>
<circle cx="183.65" cy="360.55" r="0.5" fill="#5ccaca"/>
<circle cx="185" cy="363.23" r="0.5" fill="#5ccaca"/>
<circle cx="186.61" cy="350.79" r="0.5" fill="#5ccaca"/>
<circle cx="180.72" cy="350.86" r="0.5" fill="#5ccaca"/>
<circle cx="187.35" cy="357.5" r="0.5" fill="#5ccaca"/>
<circle cx="165.1" cy="357.26" r="0.5" fill="#5ccaca"/>
<circle cx="167.93" cy="364.6" r="0.5" fill="#5ccaca"/>
<circle cx="174.21" cy="342.13" r="0.5" fill="#5ccaca"/>
<circle cx="172.84" cy="365.7" r="0.5" fill="#5ccaca"/>
<circle cx="179.68" cy="350" r="0.5" fill="#5ccaca"/>
<circle cx="182.66" cy="361.87" r="0.5" fill="#5ccaca"/>
<circle cx="187.63" cy="363.2" r="0.5" fill="#5ccaca"/>
<circle cx="179.95" cy="348.7" r="0.5" fill="#5ccaca"/>
<circle cx="179.34" cy="359.43" r="0.5" fill="#5ccaca"/>
<circle cx="176.54" cy="360.65" r="0.5" fill="#5ccaca"/>
<circle cx="166.13" cy="361.24" r="0.5" fill="#5ccaca"/>
<circle cx="176.51" cy="360.02" r="0.5" fill="#5ccaca"/>
<circle cx="175.4" cy="353.17" r="0.5" fill="#5ccaca"/>
<circle cx="178.89" cy="363.93" r="0.5" fill="#5ccaca"/>
<circle cx="173.1" cy="359.66" r="0.5" fill="#5ccaca"/>
<circle cx="169.02" cy="360.32" r="0.5" fill="#5ccaca"/>
<circle cx="176.56" cy="345.12" r="0.5" fill="#5ccaca"/>
<circle cx="186.04" cy="348.93" r="0.5" fill="#5ccaca"/>
<circle cx="177.09" cy="344.95" r="0.5" fill="#5ccaca"/>
<circle cx="163.73" cy="361.12" r="0.5" fill="#5ccaca"/>
<circle cx="168.2" cy="344.15" r="0.5" fill="#5ccaca"/>
<circle cx="174.67" cy="343.86" r="0.5" fill="#5ccaca"/>
<circle cx="174.9" cy="369.73" r="0.5" fill="#5ccaca"/>
<circle cx="172.4" cy="359.95" r="0.5" fill="#5ccaca"/>
<circle cx="182.05" cy="358.78" r="0.5" fill="#5ccaca"/>
<circle cx="175.43" cy="368.59" r="0.5" fill="#5ccaca"/>
<circle cx="175.56" cy="359.99" r="0.5" fill="#5ccaca"/>
<circle cx="177.37" cy="345.14" r="0.5" fill="#5ccaca"/>
<circle cx="179.73" cy="356.88" r="0.5" fill="#5ccaca"/>
<circle cx="182.53" cy="362.84" r="0.5" fill="#5ccaca"/>
<circle cx="185.7" cy="345.03" r="0.5" fill="#5ccaca"/>
<circle cx="170.9" cy="351.63" r="0.5" fill="#5ccaca"/>
<circle cx="168.26" cy="360.2" r="0.5" fill="#5ccaca"/>
<circle cx="175.59" cy="357.76" r="0.5" fill="#5ccaca"/>
<circle cx="164.63" cy="349.4" r="0.5" fill="#5ccaca"/>
<circle cx="175.73" cy="351.72" r="0.5" fill="#5ccaca"/>
<circle cx="170.31" cy="355.13" r="0.5" fill="#5ccaca"/>
<circle cx="173.87" cy="346.6" r="0.5" fill="#5ccaca"/>
<circle cx="188.79" cy="351.26" r="0.5" fill="#5ccaca"/>
<circle cx="182.62" cy="362.01" r="0.5" fill="#5ccaca"/>
<circle cx="185.17" cy="351.12" r="0.5" fill="#5ccaca"/>
<circle cx="167.27" cy="360.31" r="0.5" fill="#5ccaca"/>
<circle cx="177.99" cy="341.87" r="0.5" fill="#5ccaca"/>
<circle cx="161.94" cy="353.3" r="0.5" fill="#5ccaca"/>
<circle cx="172.42" cy="353.56" r="0.5" fill="#5ccaca"/>
<circle cx="180.22" cy="347.37" r="0.5" fill="#5ccaca"/>
<circle cx="190.44" cy="361.09" r="0.5" fill="#5ccaca"/>
<circle cx="187.55" cy="358.64" r="0.5" fill="#5ccaca"/>
<circle cx="162.4" cy="357.89" r="0.5" fill="#5ccaca"/>
<circle cx="170.96" cy="360.65" r="0.5" fill="#5ccaca"/>
<circle cx="175.26" cy="362.93" r="0.5" fill="#5ccaca"/>
<circle cx="168.12" cy="352.87" r="0.5" fill="#5ccaca"/>
<circle cx="176.45" cy="348.93" r="0.5" fill="#5ccaca"/>
<circle cx="171.94" cy="362.3" r="0.5" fill="#5ccaca"/>
<circle cx="190.07" cy="354.78" r="0.5" fill="#5ccaca"/>
<circle cx="183.32" cy="346.75" r="0.5" fill="#5ccaca"/>
<circle cx="171.79" cy="359.61" r="0.5" fill="#5ccaca"/>
<circle cx="181.56" cy="347.15" r="0.5" fill="#5ccaca"/>
<circle cx="182.4" cy="357.75" r="0.5" fill="#5ccaca"/>
<circle cx="186.74" cy="363.69" r="0.5" fill="#5ccaca"/>
<circle cx="181.82" cy="352.37" r="0.5" fill="#5ccaca"/>
<circle cx="178.89" cy="348.13" r="0.5" fill="#5ccaca"/>
<circle cx="170.7" cy="343.58" r="0.5" fill="#5ccaca"/>
<circle cx="166.8" cy="346.92" r="0.5" fill="#5ccaca"/>
<circle cx="175.33" cy="357.36" r="0.5" fill="#5ccaca"/>
<circle cx="164.94" cy="355.45" r="0.5" fill="#5ccaca"/>
<circle cx="180.13" cy="364.88" r="0.5" fill="#5ccaca"/>
<circle cx="175.39" cy="358.55" r="0.5" fill="#5ccaca"/>
<circle cx="172.87" cy="364.88" r="0.5" fill="#5ccaca"/>
<circle cx="163.96" cy="358.18" r="0.5" fill="#5ccaca"/>
<circle cx="164.42" cy="365.11" r="0.5" fill="#5ccaca"/>
<circle cx="182.17" cy="343.09" r="0.5" fill="#5ccaca"/>
<circle cx="172.08" cy="344.8" r="0.5" fill="#5ccaca"/>
<circle cx="166" cy="361" r="0.9" fill="#b8163a"/>
<circle cx="171" cy="366" r="0.9" fill="#b8163a"/>
<circle cx="180" cy="364" r="0.9" fill="#b8163a"/>
<circle cx="185" cy="360" r="0.9" fill="#b8163a"/>
<circle cx="176" cy="369" r="0.9" fill="#b8163a"/>
<circle cx="163" cy="358.5" r="0.9" fill="#b8163a"/>
<circle cx="189" cy="359" r="0.9" fill="#b8163a"/>
<circle cx="171" cy="360.5" r="0.9" fill="#b8163a"/>
<circle cx="182" cy="369" r="0.9" fill="#b8163a"/>
<circle cx="175" cy="362" r="0.9" fill="#b8163a"/>
<circle cx="168" cy="367" r="0.9" fill="#b8163a"/>
<circle cx="187" cy="365" r="0.9" fill="#b8163a"/>
<circle cx="163.5" cy="345" r="0.9" fill="#b8163a"/>
<circle cx="166.5" cy="342" r="0.9" fill="#b8163a"/>
<circle cx="170" cy="340" r="0.9" fill="#b8163a"/>
<circle cx="161.5" cy="350" r="0.9" fill="#b8163a"/>
<circle cx="180" cy="340.5" r="0.9" fill="#b8163a"/>
<circle cx="165" cy="364" r="0.8" fill="#f4f8f8"/>
<circle cx="174" cy="359.5" r="0.8" fill="#f4f8f8"/>
<circle cx="178" cy="360" r="0.8" fill="#f4f8f8"/>
<circle cx="186" cy="362.5" r="0.8" fill="#f4f8f8"/>
<circle cx="169" cy="369.5" r="0.8" fill="#f4f8f8"/>
<circle cx="181" cy="347" r="0.8" fill="#f4f8f8"/>
<circle cx="185" cy="350" r="0.8" fill="#f4f8f8"/>
<circle cx="178" cy="345" r="0.8" fill="#f4f8f8"/>
<circle cx="183" cy="366" r="0.8" fill="#f4f8f8"/>
<circle cx="173" cy="365" r="0.8" fill="#f4f8f8"/>
<text x="97.3" y="379.5" font-size="5.2" fill="#333" stroke="#333" stroke-width="0.22" text-anchor="middle" font-weight="normal" font-style="normal" >Step 1</text>
<text x="147" y="350.4" font-size="5.2" fill="#333" stroke="#333" stroke-width="0.22" text-anchor="middle" font-weight="normal" font-style="normal" >Step 2</text>
<circle cx="120.3" cy="384.4" r="1.7" fill="#fff" stroke="#f4a0c4" stroke-width="0.8"/>
<text x="124.6" y="386.1" font-size="4.4" fill="#666" stroke="#666" stroke-width="0.22" text-anchor="start" font-weight="normal" font-style="normal" >B</text>
<circle cx="135.9" cy="384.4" r="1.8" fill="#e01530"/>
<text x="140" y="386.1" font-size="4.4" fill="#666" stroke="#666" stroke-width="0.22" text-anchor="start" font-weight="normal" font-style="normal" >O</text>
<circle cx="151.3" cy="384.4" r="1.8" fill="#2aa0c4"/>
<text x="155.6" y="386.1" font-size="4.4" fill="#666" stroke="#666" stroke-width="0.22" text-anchor="start" font-weight="normal" font-style="normal" >Pd</text>
<path d="M166,382.5 L169,385 L166,387 M169,385 L172,382.6 M169,385 L172.5,386.5" stroke="#f2c650" stroke-width="1.1" fill="none"/>
<text x="174.6" y="386.1" font-size="4.4" fill="#666" stroke="#666" stroke-width="0.22" text-anchor="start" font-weight="normal" font-style="normal" >Pd(acac)<tspan font-size="3" dy="1">2</tspan></text>
<rect x="222.4" y="290" width="157.2" height="115" fill="none" stroke="#3a3f48" stroke-width="1.1"/>
<line x1="220.4" y1="396.2" x2="222.3" y2="396.2" stroke="#3a3f48" stroke-width="0.8"/>
<text x="219.4" y="399.3" font-size="7" fill="#333" stroke="#333" stroke-width="0.22" text-anchor="end" font-weight="normal" font-style="normal" >-2</text>
<line x1="220.4" y1="378.5" x2="222.3" y2="378.5" stroke="#3a3f48" stroke-width="0.8"/>
<text x="219.4" y="381.6" font-size="7" fill="#333" stroke="#333" stroke-width="0.22" text-anchor="end" font-weight="normal" font-style="normal" >-1</text>
<line x1="220.4" y1="360.8" x2="222.3" y2="360.8" stroke="#3a3f48" stroke-width="0.8"/>
<text x="219.4" y="363.9" font-size="7" fill="#333" stroke="#333" stroke-width="0.22" text-anchor="end" font-weight="normal" font-style="normal" >0</text>
<line x1="220.4" y1="343.1" x2="222.3" y2="343.1" stroke="#3a3f48" stroke-width="0.8"/>
<text x="219.4" y="346.2" font-size="7" fill="#333" stroke="#333" stroke-width="0.22" text-anchor="end" font-weight="normal" font-style="normal" >1</text>
<line x1="220.4" y1="325.4" x2="222.3" y2="325.4" stroke="#3a3f48" stroke-width="0.8"/>
<text x="219.4" y="328.5" font-size="7" fill="#333" stroke="#333" stroke-width="0.22" text-anchor="end" font-weight="normal" font-style="normal" >2</text>
<line x1="220.4" y1="307.7" x2="222.3" y2="307.7" stroke="#3a3f48" stroke-width="0.8"/>
<text x="219.4" y="310.8" font-size="7" fill="#333" stroke="#333" stroke-width="0.22" text-anchor="end" font-weight="normal" font-style="normal" >3</text>
<line x1="220.4" y1="290" x2="222.3" y2="290" stroke="#3a3f48" stroke-width="0.8"/>
<text x="219.4" y="293.1" font-size="7" fill="#333" stroke="#333" stroke-width="0.22" text-anchor="end" font-weight="normal" font-style="normal" >4</text>
<line x1="222.5" y1="405" x2="222.5" y2="402.6" stroke="#3a3f48" stroke-width="0.8"/>
<line x1="255.22" y1="405" x2="255.22" y2="403.6" stroke="#3a3f48" stroke-width="0.7"/>
<text x="222.5" y="414.6" font-size="6.4" fill="#333" stroke="#333" stroke-width="0.22" text-anchor="middle" font-weight="normal" font-style="normal" >-0.4</text>
<line x1="248.68" y1="405" x2="248.68" y2="402.6" stroke="#3a3f48" stroke-width="0.8"/>
<line x1="281.41" y1="405" x2="281.41" y2="403.6" stroke="#3a3f48" stroke-width="0.7"/>
<text x="248.68" y="414.6" font-size="6.4" fill="#333" stroke="#333" stroke-width="0.22" text-anchor="middle" font-weight="normal" font-style="normal" >-0.2</text>
<line x1="274.86" y1="405" x2="274.86" y2="402.6" stroke="#3a3f48" stroke-width="0.8"/>
<line x1="307.59" y1="405" x2="307.59" y2="403.6" stroke="#3a3f48" stroke-width="0.7"/>
<text x="274.86" y="414.6" font-size="6.4" fill="#333" stroke="#333" stroke-width="0.22" text-anchor="middle" font-weight="normal" font-style="normal" >0.0</text>
<line x1="301.04" y1="405" x2="301.04" y2="402.6" stroke="#3a3f48" stroke-width="0.8"/>
<line x1="333.77" y1="405" x2="333.77" y2="403.6" stroke="#3a3f48" stroke-width="0.7"/>
<text x="301.04" y="414.6" font-size="6.4" fill="#333" stroke="#333" stroke-width="0.22" text-anchor="middle" font-weight="normal" font-style="normal" >0.2</text>
<line x1="327.22" y1="405" x2="327.22" y2="402.6" stroke="#3a3f48" stroke-width="0.8"/>
<line x1="359.95" y1="405" x2="359.95" y2="403.6" stroke="#3a3f48" stroke-width="0.7"/>
<text x="327.22" y="414.6" font-size="6.4" fill="#333" stroke="#333" stroke-width="0.22" text-anchor="middle" font-weight="normal" font-style="normal" >0.4</text>
<line x1="353.4" y1="405" x2="353.4" y2="402.6" stroke="#3a3f48" stroke-width="0.8"/>
<line x1="386.12" y1="405" x2="386.12" y2="403.6" stroke="#3a3f48" stroke-width="0.7"/>
<text x="353.4" y="414.6" font-size="6.4" fill="#333" stroke="#333" stroke-width="0.22" text-anchor="middle" font-weight="normal" font-style="normal" >0.6</text>
<line x1="379.58" y1="405" x2="379.58" y2="402.6" stroke="#3a3f48" stroke-width="0.8"/>
<text x="379.58" y="414.6" font-size="6.4" fill="#333" stroke="#333" stroke-width="0.22" text-anchor="middle" font-weight="normal" font-style="normal" >0.8</text>
<text x="0" y="0" font-size="8" fill="#222" stroke="#222" stroke-width="0.22" text-anchor="middle" font-weight="normal" font-style="normal" transform="translate(211.9,349.2) rotate(-90)">ln(<tspan font-style="italic">j</tspan><tspan font-size="5" dy="1.5">k</tspan><tspan dy="-1.5">/</tspan><tspan font-style="italic">j</tspan><tspan font-size="5" dy="1.5">k</tspan><tspan font-size="5" dy="-5.2">(Pt)</tspan><tspan dy="3.7">)</tspan></text>
<text x="275" y="424" font-size="8.6" fill="#222" stroke="#222" stroke-width="0.22" text-anchor="start" font-weight="normal" font-style="normal" ><tspan font-style="italic">E</tspan><tspan font-size="5.8" dy="1.8">O*-M</tspan><tspan dy="-1.8"> - </tspan><tspan font-style="italic">E</tspan><tspan font-size="5.8" dy="1.8">O*-Pt</tspan><tspan dy="-1.8"> (eV)</tspan></text>
<path d="M257.7,405 L299.3,295.8 L340.2,404.6" fill="none" stroke="#f4547a" stroke-width="1.1" stroke-dasharray="1.4,1"/>
<circle cx="274.4" cy="360.6" r="1.75" fill="#ee1c3c"/>
<circle cx="275.6" cy="358.4" r="1.75" fill="#ee1c3c"/>
<circle cx="279" cy="349.8" r="1.75" fill="#ee1c3c"/>
<circle cx="283" cy="340.5" r="1.75" fill="#ee1c3c"/>
<circle cx="284.2" cy="338" r="1.75" fill="#ee1c3c"/>
<circle cx="314.6" cy="335.4" r="1.75" fill="#ee1c3c"/>
<circle cx="326.2" cy="364.9" r="1.75" fill="#ee1c3c"/>
<text x="260" y="334" font-size="5.3" fill="#33e27a" stroke="#33e27a" stroke-width="0.22" text-anchor="middle" font-weight="bold" font-style="normal" >(Pd-BO<tspan font-size="3.6" dy="1">3</tspan><tspan dy="-1">)</tspan><tspan font-size="3.6" dy="1">2</tspan><tspan dy="-1">-Pd</tspan></text>
<text x="258.5" y="342.4" font-size="5.3" fill="#33e27a" stroke="#33e27a" stroke-width="0.22" text-anchor="middle" font-weight="bold" font-style="normal" >(Pd-BO<tspan font-size="3.6" dy="1">3</tspan><tspan dy="-1">)-Pd</tspan></text>
<text x="263.6" y="351.7" font-size="5.3" fill="#33e27a" stroke="#33e27a" stroke-width="0.22" text-anchor="middle" font-weight="bold" font-style="normal" >B<tspan font-size="3.6" dy="1">8</tspan><tspan dy="-1">-Pd</tspan></text>
<text x="267" y="361.5" font-size="5.3" fill="#33e27a" stroke="#33e27a" stroke-width="0.22" text-anchor="middle" font-weight="bold" font-style="normal" >Pt</text>
<text x="279.3" y="372.7" font-size="5.3" fill="#33e27a" stroke="#33e27a" stroke-width="0.22" text-anchor="middle" font-weight="bold" font-style="normal" >Pd</text>
<text x="324.6" y="333.4" font-size="5.3" fill="#33e27a" stroke="#33e27a" stroke-width="0.22" text-anchor="middle" font-weight="bold" font-style="normal" >Pt<tspan font-size="3.6" dy="1">3</tspan><tspan dy="-1">Ni</tspan></text>
<text x="342.2" y="366.8" font-size="5.3" fill="#33e27a" stroke="#33e27a" stroke-width="0.22" text-anchor="middle" font-weight="bold" font-style="normal" >Pd-BO<tspan font-size="3.6" dy="1">2</tspan></text>
<text x="259.6" y="305.2" font-size="8.4" fill="#2a2f36" stroke="#2a2f36" stroke-width="0.22" text-anchor="middle" font-weight="normal" font-style="normal" >C</text>
<text x="247.3" y="381.6" font-size="8.4" fill="#2a2f36" stroke="#2a2f36" stroke-width="0.22" text-anchor="middle" font-weight="normal" font-style="normal" >D</text>
<text x="294.9" y="373.8" font-size="8.4" fill="#2a2f36" stroke="#2a2f36" stroke-width="0.22" text-anchor="middle" font-weight="normal" font-style="normal" >B</text>
<text x="353.8" y="397.4" font-size="8.4" fill="#2a2f36" stroke="#2a2f36" stroke-width="0.22" text-anchor="middle" font-weight="normal" font-style="normal" >A</text>
<text x="205" y="286.8" font-size="10.5" fill="#111" stroke="#111" stroke-width="0.22" text-anchor="middle" font-weight="bold" font-style="normal" >f</text>
<clipPath id="m1"><rect x="243.1" y="308.1" width="33.3" height="17.4"/></clipPath><g clip-path="url(#m1)">
<rect x="243.1" y="308.1" width="33.3" height="17.4" fill="#081010"/>
<circle cx="242.86" cy="309.3" r="2.06" fill="#3ed6a0"/>
<circle cx="245.62" cy="311.58" r="0.91" fill="#2fb88a"/>
<circle cx="248.38" cy="309.3" r="2.06" fill="#3ed6a0"/>
<circle cx="251.14" cy="311.58" r="0.91" fill="#2fb88a"/>
<circle cx="253.9" cy="309.3" r="2.06" fill="#3ed6a0"/>
<circle cx="256.66" cy="311.58" r="0.91" fill="#2fb88a"/>
<circle cx="259.42" cy="309.3" r="2.06" fill="#3ed6a0"/>
<circle cx="262.18" cy="311.58" r="0.91" fill="#2fb88a"/>
<circle cx="264.94" cy="309.3" r="2.06" fill="#3ed6a0"/>
<circle cx="267.7" cy="311.58" r="0.91" fill="#2fb88a"/>
<circle cx="270.46" cy="309.3" r="2.06" fill="#3ed6a0"/>
<circle cx="273.22" cy="311.58" r="0.91" fill="#2fb88a"/>
<circle cx="275.98" cy="309.3" r="2.06" fill="#3ed6a0"/>
<circle cx="278.74" cy="311.58" r="0.91" fill="#2fb88a"/>
<circle cx="245.62" cy="313.86" r="2.06" fill="#3ed6a0"/>
<circle cx="248.38" cy="316.14" r="0.91" fill="#2fb88a"/>
<circle cx="251.14" cy="313.86" r="2.06" fill="#3ed6a0"/>
<circle cx="253.9" cy="316.14" r="0.91" fill="#2fb88a"/>
<circle cx="256.66" cy="313.86" r="2.06" fill="#3ed6a0"/>
<circle cx="259.42" cy="316.14" r="0.91" fill="#2fb88a"/>
<circle cx="262.18" cy="313.86" r="2.06" fill="#3ed6a0"/>
<circle cx="264.94" cy="316.14" r="0.91" fill="#2fb88a"/>
<circle cx="267.7" cy="313.86" r="2.06" fill="#3ed6a0"/>
<circle cx="270.46" cy="316.14" r="0.91" fill="#2fb88a"/>
<circle cx="273.22" cy="313.86" r="2.06" fill="#3ed6a0"/>
<circle cx="275.98" cy="316.14" r="0.91" fill="#2fb88a"/>
<circle cx="278.74" cy="313.86" r="2.06" fill="#3ed6a0"/>
<circle cx="281.5" cy="316.14" r="0.91" fill="#2fb88a"/>
<circle cx="242.86" cy="318.42" r="2.06" fill="#3ed6a0"/>
<circle cx="245.62" cy="320.7" r="0.91" fill="#2fb88a"/>
<circle cx="248.38" cy="318.42" r="2.06" fill="#3ed6a0"/>
<circle cx="251.14" cy="320.7" r="0.91" fill="#2fb88a"/>
<circle cx="253.9" cy="318.42" r="2.06" fill="#3ed6a0"/>
<circle cx="256.66" cy="320.7" r="0.91" fill="#2fb88a"/>
<circle cx="259.42" cy="318.42" r="2.06" fill="#3ed6a0"/>
<circle cx="262.18" cy="320.7" r="0.91" fill="#2fb88a"/>
<circle cx="264.94" cy="318.42" r="2.06" fill="#3ed6a0"/>
<circle cx="267.7" cy="320.7" r="0.91" fill="#2fb88a"/>
<circle cx="270.46" cy="318.42" r="2.06" fill="#3ed6a0"/>
<circle cx="273.22" cy="320.7" r="0.91" fill="#2fb88a"/>
<circle cx="275.98" cy="318.42" r="2.06" fill="#3ed6a0"/>
<circle cx="278.74" cy="320.7" r="0.91" fill="#2fb88a"/>
<circle cx="245.62" cy="322.98" r="2.06" fill="#3ed6a0"/>
<circle cx="248.38" cy="325.26" r="0.91" fill="#2fb88a"/>
<circle cx="251.14" cy="322.98" r="2.06" fill="#3ed6a0"/>
<circle cx="253.9" cy="325.26" r="0.91" fill="#2fb88a"/>
<circle cx="256.66" cy="322.98" r="2.06" fill="#3ed6a0"/>
<circle cx="259.42" cy="325.26" r="0.91" fill="#2fb88a"/>
<circle cx="262.18" cy="322.98" r="2.06" fill="#3ed6a0"/>
<circle cx="264.94" cy="325.26" r="0.91" fill="#2fb88a"/>
<circle cx="267.7" cy="322.98" r="2.06" fill="#3ed6a0"/>
<circle cx="270.46" cy="325.26" r="0.91" fill="#2fb88a"/>
<circle cx="273.22" cy="322.98" r="2.06" fill="#3ed6a0"/>
<circle cx="275.98" cy="325.26" r="0.91" fill="#2fb88a"/>
<circle cx="278.74" cy="322.98" r="2.06" fill="#3ed6a0"/>
<circle cx="281.5" cy="325.26" r="0.91" fill="#2fb88a"/>
<circle cx="242.86" cy="327.54" r="2.06" fill="#3ed6a0"/>
<circle cx="245.62" cy="329.82" r="0.91" fill="#2fb88a"/>
<circle cx="248.38" cy="327.54" r="2.06" fill="#3ed6a0"/>
<circle cx="251.14" cy="329.82" r="0.91" fill="#2fb88a"/>
<circle cx="253.9" cy="327.54" r="2.06" fill="#3ed6a0"/>
<circle cx="256.66" cy="329.82" r="0.91" fill="#2fb88a"/>
<circle cx="259.42" cy="327.54" r="2.06" fill="#3ed6a0"/>
<circle cx="262.18" cy="329.82" r="0.91" fill="#2fb88a"/>
<circle cx="264.94" cy="327.54" r="2.06" fill="#3ed6a0"/>
<circle cx="267.7" cy="329.82" r="0.91" fill="#2fb88a"/>
<circle cx="270.46" cy="327.54" r="2.06" fill="#3ed6a0"/>
<circle cx="273.22" cy="329.82" r="0.91" fill="#2fb88a"/>
<circle cx="275.98" cy="327.54" r="2.06" fill="#3ed6a0"/>
<circle cx="278.74" cy="329.82" r="0.91" fill="#2fb88a"/>
<circle cx="248.7" cy="313.7" r="2.2" fill="#f01c24"/>
<circle cx="256.4" cy="313.7" r="2.2" fill="#f01c24"/>
<circle cx="252.8" cy="320.4" r="2.2" fill="#f01c24"/>
<circle cx="270.8" cy="316.3" r="2.2" fill="#f01c24"/>
<circle cx="252.8" cy="315.8" r="2.4" fill="#fbecc4"/>
</g>
<clipPath id="m2"><rect x="236.3" y="352.7" width="22.1" height="14"/></clipPath><g clip-path="url(#m2)">
<rect x="236.3" y="352.7" width="22.1" height="14" fill="#081010"/>
<circle cx="236.06" cy="353.9" r="2.06" fill="#3ed6a0"/>
<circle cx="238.82" cy="356.18" r="0.91" fill="#2fb88a"/>
<circle cx="241.58" cy="353.9" r="2.06" fill="#3ed6a0"/>
<circle cx="244.34" cy="356.18" r="0.91" fill="#2fb88a"/>
<circle cx="247.1" cy="353.9" r="2.06" fill="#3ed6a0"/>
<circle cx="249.86" cy="356.18" r="0.91" fill="#2fb88a"/>
<circle cx="252.62" cy="353.9" r="2.06" fill="#3ed6a0"/>
<circle cx="255.38" cy="356.18" r="0.91" fill="#2fb88a"/>
<circle cx="258.14" cy="353.9" r="2.06" fill="#3ed6a0"/>
<circle cx="260.9" cy="356.18" r="0.91" fill="#2fb88a"/>
<circle cx="238.82" cy="358.46" r="2.06" fill="#3ed6a0"/>
<circle cx="241.58" cy="360.74" r="0.91" fill="#2fb88a"/>
<circle cx="244.34" cy="358.46" r="2.06" fill="#3ed6a0"/>
<circle cx="247.1" cy="360.74" r="0.91" fill="#2fb88a"/>
<circle cx="249.86" cy="358.46" r="2.06" fill="#3ed6a0"/>
<circle cx="252.62" cy="360.74" r="0.91" fill="#2fb88a"/>
<circle cx="255.38" cy="358.46" r="2.06" fill="#3ed6a0"/>
<circle cx="258.14" cy="360.74" r="0.91" fill="#2fb88a"/>
<circle cx="236.06" cy="363.02" r="2.06" fill="#3ed6a0"/>
<circle cx="238.82" cy="365.3" r="0.91" fill="#2fb88a"/>
<circle cx="241.58" cy="363.02" r="2.06" fill="#3ed6a0"/>
<circle cx="244.34" cy="365.3" r="0.91" fill="#2fb88a"/>
<circle cx="247.1" cy="363.02" r="2.06" fill="#3ed6a0"/>
<circle cx="249.86" cy="365.3" r="0.91" fill="#2fb88a"/>
<circle cx="252.62" cy="363.02" r="2.06" fill="#3ed6a0"/>
<circle cx="255.38" cy="365.3" r="0.91" fill="#2fb88a"/>
<circle cx="258.14" cy="363.02" r="2.06" fill="#3ed6a0"/>
<circle cx="260.9" cy="365.3" r="0.91" fill="#2fb88a"/>
<circle cx="238.82" cy="367.58" r="2.06" fill="#3ed6a0"/>
<circle cx="241.58" cy="369.86" r="0.91" fill="#2fb88a"/>
<circle cx="244.34" cy="367.58" r="2.06" fill="#3ed6a0"/>
<circle cx="247.1" cy="369.86" r="0.91" fill="#2fb88a"/>
<circle cx="249.86" cy="367.58" r="2.06" fill="#3ed6a0"/>
<circle cx="252.62" cy="369.86" r="0.91" fill="#2fb88a"/>
<circle cx="255.38" cy="367.58" r="2.06" fill="#3ed6a0"/>
<circle cx="258.14" cy="369.86" r="0.91" fill="#2fb88a"/>
<circle cx="253.5" cy="360.8" r="2.2" fill="#f01c24"/>
<circle cx="243.7" cy="360" r="2" fill="#fbecc4"/>
</g>
<clipPath id="m3"><rect x="286.6" y="343.6" width="18" height="18"/></clipPath><g clip-path="url(#m3)">
<rect x="286.6" y="343.6" width="18" height="18" fill="#081010"/>
<circle cx="286.35" cy="344.85" r="2.15" fill="#3ed6a0"/>
<circle cx="289.23" cy="347.23" r="0.95" fill="#2fb88a"/>
<circle cx="292.1" cy="344.85" r="2.15" fill="#3ed6a0"/>
<circle cx="294.98" cy="347.23" r="0.95" fill="#2fb88a"/>
<circle cx="297.85" cy="344.85" r="2.15" fill="#3ed6a0"/>
<circle cx="300.73" cy="347.23" r="0.95" fill="#2fb88a"/>
<circle cx="303.6" cy="344.85" r="2.15" fill="#3ed6a0"/>
<circle cx="306.48" cy="347.23" r="0.95" fill="#2fb88a"/>
<circle cx="289.23" cy="349.6" r="2.15" fill="#3ed6a0"/>
<circle cx="292.1" cy="351.98" r="0.95" fill="#2fb88a"/>
<circle cx="294.98" cy="349.6" r="2.15" fill="#3ed6a0"/>
<circle cx="297.85" cy="351.98" r="0.95" fill="#2fb88a"/>
<circle cx="300.73" cy="349.6" r="2.15" fill="#3ed6a0"/>
<circle cx="303.6" cy="351.98" r="0.95" fill="#2fb88a"/>
<circle cx="306.48" cy="349.6" r="2.15" fill="#3ed6a0"/>
<circle cx="309.35" cy="351.98" r="0.95" fill="#2fb88a"/>
<circle cx="286.35" cy="354.35" r="2.15" fill="#3ed6a0"/>
<circle cx="289.23" cy="356.73" r="0.95" fill="#2fb88a"/>
<circle cx="292.1" cy="354.35" r="2.15" fill="#3ed6a0"/>
<circle cx="294.98" cy="356.73" r="0.95" fill="#2fb88a"/>
<circle cx="297.85" cy="354.35" r="2.15" fill="#3ed6a0"/>
<circle cx="300.73" cy="356.73" r="0.95" fill="#2fb88a"/>
<circle cx="303.6" cy="354.35" r="2.15" fill="#3ed6a0"/>
<circle cx="306.48" cy="356.73" r="0.95" fill="#2fb88a"/>
<circle cx="289.23" cy="359.1" r="2.15" fill="#3ed6a0"/>
<circle cx="292.1" cy="361.48" r="0.95" fill="#2fb88a"/>
<circle cx="294.98" cy="359.1" r="2.15" fill="#3ed6a0"/>
<circle cx="297.85" cy="361.48" r="0.95" fill="#2fb88a"/>
<circle cx="300.73" cy="359.1" r="2.15" fill="#3ed6a0"/>
<circle cx="303.6" cy="361.48" r="0.95" fill="#2fb88a"/>
<circle cx="306.48" cy="359.1" r="2.15" fill="#3ed6a0"/>
<circle cx="309.35" cy="361.48" r="0.95" fill="#2fb88a"/>
<circle cx="286.35" cy="363.85" r="2.15" fill="#3ed6a0"/>
<circle cx="289.23" cy="366.23" r="0.95" fill="#2fb88a"/>
<circle cx="292.1" cy="363.85" r="2.15" fill="#3ed6a0"/>
<circle cx="294.98" cy="366.23" r="0.95" fill="#2fb88a"/>
<circle cx="297.85" cy="363.85" r="2.15" fill="#3ed6a0"/>
<circle cx="300.73" cy="366.23" r="0.95" fill="#2fb88a"/>
<circle cx="303.6" cy="363.85" r="2.15" fill="#3ed6a0"/>
<circle cx="306.48" cy="366.23" r="0.95" fill="#2fb88a"/>
<circle cx="290.5" cy="347.4" r="2.3" fill="#f01c24"/>
<circle cx="299.8" cy="347.4" r="2.3" fill="#f01c24"/>
<circle cx="290.5" cy="358.5" r="2.2" fill="#f01c24"/>
<circle cx="295.2" cy="347.2" r="2.5" fill="#fbecc4"/>
</g>
<clipPath id="m4"><rect x="345.3" y="370.3" width="17" height="16.4"/></clipPath><g clip-path="url(#m4)">
<rect x="345.3" y="370.3" width="17" height="16.4" fill="#081010"/>
<circle cx="345.06" cy="371.5" r="2.06" fill="#3ed6a0"/>
<circle cx="347.82" cy="373.78" r="0.91" fill="#2fb88a"/>
<circle cx="350.58" cy="371.5" r="2.06" fill="#3ed6a0"/>
<circle cx="353.34" cy="373.78" r="0.91" fill="#2fb88a"/>
<circle cx="356.1" cy="371.5" r="2.06" fill="#3ed6a0"/>
<circle cx="358.86" cy="373.78" r="0.91" fill="#2fb88a"/>
<circle cx="361.62" cy="371.5" r="2.06" fill="#3ed6a0"/>
<circle cx="364.38" cy="373.78" r="0.91" fill="#2fb88a"/>
<circle cx="347.82" cy="376.06" r="2.06" fill="#3ed6a0"/>
<circle cx="350.58" cy="378.34" r="0.91" fill="#2fb88a"/>
<circle cx="353.34" cy="376.06" r="2.06" fill="#3ed6a0"/>
<circle cx="356.1" cy="378.34" r="0.91" fill="#2fb88a"/>
<circle cx="358.86" cy="376.06" r="2.06" fill="#3ed6a0"/>
<circle cx="361.62" cy="378.34" r="0.91" fill="#2fb88a"/>
<circle cx="364.38" cy="376.06" r="2.06" fill="#3ed6a0"/>
<circle cx="367.14" cy="378.34" r="0.91" fill="#2fb88a"/>
<circle cx="345.06" cy="380.62" r="2.06" fill="#3ed6a0"/>
<circle cx="347.82" cy="382.9" r="0.91" fill="#2fb88a"/>
<circle cx="350.58" cy="380.62" r="2.06" fill="#3ed6a0"/>
<circle cx="353.34" cy="382.9" r="0.91" fill="#2fb88a"/>
<circle cx="356.1" cy="380.62" r="2.06" fill="#3ed6a0"/>
<circle cx="358.86" cy="382.9" r="0.91" fill="#2fb88a"/>
<circle cx="361.62" cy="380.62" r="2.06" fill="#3ed6a0"/>
<circle cx="364.38" cy="382.9" r="0.91" fill="#2fb88a"/>
<circle cx="347.82" cy="385.18" r="2.06" fill="#3ed6a0"/>
<circle cx="350.58" cy="387.46" r="0.91" fill="#2fb88a"/>
<circle cx="353.34" cy="385.18" r="2.06" fill="#3ed6a0"/>
<circle cx="356.1" cy="387.46" r="0.91" fill="#2fb88a"/>
<circle cx="358.86" cy="385.18" r="2.06" fill="#3ed6a0"/>
<circle cx="361.62" cy="387.46" r="0.91" fill="#2fb88a"/>
<circle cx="364.38" cy="385.18" r="2.06" fill="#3ed6a0"/>
<circle cx="367.14" cy="387.46" r="0.91" fill="#2fb88a"/>
<circle cx="350" cy="375.3" r="2.1" fill="#f01c24"/>
<circle cx="357.7" cy="375.3" r="2.1" fill="#f01c24"/>
<circle cx="354" cy="382.3" r="2.1" fill="#f01c24"/>
<circle cx="354" cy="377.7" r="2.3" fill="#fbecc4"/>
</g>
</svg></body></html>
